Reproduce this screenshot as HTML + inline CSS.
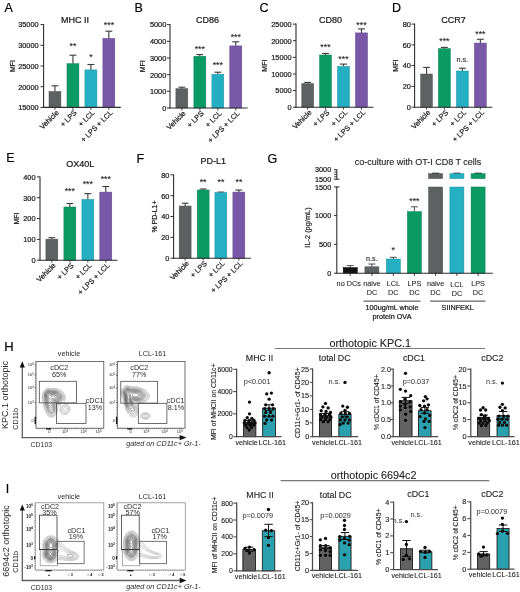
<!DOCTYPE html>
<html lang="en">
<head>
<meta charset="utf-8">
<title>Figure: DC activation by LCL-161</title>
<style>
html,body{margin:0;padding:0;background:#fff;}
body{width:520px;height:592px;overflow:hidden;}
svg{display:block;font-family:"Liberation Sans","DejaVu Sans",sans-serif;}
</style>
</head>
<body>
<svg width="520" height="592" viewBox="0 0 520 592">
<rect x="0" y="0" width="520" height="592" fill="#ffffff"/>
<text x="4.50" y="11.60" font-size="12.5" text-anchor="start" fill="#000" stroke="#000" stroke-width="0.18">A</text>
<text x="75.00" y="22.70" font-size="9.0" text-anchor="middle" fill="#1a1a1a" stroke="#1a1a1a" stroke-width="0.22">MHC II</text>
<line x1="54.95" y1="91.50" x2="54.95" y2="85.80" stroke="#3a3a3a" stroke-width="1.1"/>
<line x1="51.50" y1="85.80" x2="58.40" y2="85.80" stroke="#3a3a3a" stroke-width="1.1"/>
<rect x="49.00" y="91.50" width="11.90" height="15.90" fill="#5e6162" stroke="#4a4f51" stroke-width="0.5"/>
<line x1="72.95" y1="63.70" x2="72.95" y2="55.20" stroke="#3a3a3a" stroke-width="1.1"/>
<line x1="69.50" y1="55.20" x2="76.40" y2="55.20" stroke="#3a3a3a" stroke-width="1.1"/>
<rect x="67.00" y="63.70" width="11.90" height="43.70" fill="#0a9a63" stroke="#087d50" stroke-width="0.5"/>
<line x1="90.90" y1="69.90" x2="90.90" y2="64.50" stroke="#3a3a3a" stroke-width="1.1"/>
<line x1="87.42" y1="64.50" x2="94.38" y2="64.50" stroke="#3a3a3a" stroke-width="1.1"/>
<rect x="84.90" y="69.90" width="12.00" height="37.50" fill="#25afc3" stroke="#1c93a5" stroke-width="0.5"/>
<line x1="108.85" y1="38.40" x2="108.85" y2="31.20" stroke="#3a3a3a" stroke-width="1.1"/>
<line x1="105.40" y1="31.20" x2="112.30" y2="31.20" stroke="#3a3a3a" stroke-width="1.1"/>
<rect x="102.90" y="38.40" width="11.90" height="69.00" fill="#7958a8" stroke="#63468c" stroke-width="0.5"/>
<line x1="43.60" y1="24.10" x2="43.60" y2="107.90" stroke="#2e2e2e" stroke-width="1.1"/>
<line x1="43.10" y1="107.40" x2="120.80" y2="107.40" stroke="#2e2e2e" stroke-width="1.1"/>
<line x1="40.50" y1="24.60" x2="43.60" y2="24.60" stroke="#2e2e2e" stroke-width="1.0"/>
<text x="38.60" y="27.40" font-size="7.35" text-anchor="end" fill="#1a1a1a" stroke="#1a1a1a" stroke-width="0.22">35000</text>
<line x1="40.50" y1="45.30" x2="43.60" y2="45.30" stroke="#2e2e2e" stroke-width="1.0"/>
<text x="38.60" y="48.10" font-size="7.35" text-anchor="end" fill="#1a1a1a" stroke="#1a1a1a" stroke-width="0.22">30000</text>
<line x1="40.50" y1="66.00" x2="43.60" y2="66.00" stroke="#2e2e2e" stroke-width="1.0"/>
<text x="38.60" y="68.80" font-size="7.35" text-anchor="end" fill="#1a1a1a" stroke="#1a1a1a" stroke-width="0.22">25000</text>
<line x1="40.50" y1="86.70" x2="43.60" y2="86.70" stroke="#2e2e2e" stroke-width="1.0"/>
<text x="38.60" y="89.50" font-size="7.35" text-anchor="end" fill="#1a1a1a" stroke="#1a1a1a" stroke-width="0.22">20000</text>
<line x1="40.50" y1="107.40" x2="43.60" y2="107.40" stroke="#2e2e2e" stroke-width="1.0"/>
<text x="38.60" y="110.20" font-size="7.35" text-anchor="end" fill="#1a1a1a" stroke="#1a1a1a" stroke-width="0.22">15000</text>
<line x1="54.95" y1="107.40" x2="54.95" y2="109.80" stroke="#2e2e2e" stroke-width="0.9"/>
<text x="59.25" y="113.20" font-size="7.25" text-anchor="end" fill="#1a1a1a" transform="rotate(-45 59.25 113.20)" stroke="#1a1a1a" stroke-width="0.22">Vehicle</text>
<line x1="72.95" y1="107.40" x2="72.95" y2="109.80" stroke="#2e2e2e" stroke-width="0.9"/>
<text x="77.25" y="113.20" font-size="7.25" text-anchor="end" fill="#1a1a1a" transform="rotate(-45 77.25 113.20)" stroke="#1a1a1a" stroke-width="0.22">+ LPS</text>
<line x1="90.90" y1="107.40" x2="90.90" y2="109.80" stroke="#2e2e2e" stroke-width="0.9"/>
<text x="95.20" y="113.20" font-size="7.25" text-anchor="end" fill="#1a1a1a" transform="rotate(-45 95.20 113.20)" stroke="#1a1a1a" stroke-width="0.22">+ LCL</text>
<line x1="108.85" y1="107.40" x2="108.85" y2="109.80" stroke="#2e2e2e" stroke-width="0.9"/>
<text x="113.15" y="113.20" font-size="7.25" text-anchor="end" fill="#1a1a1a" transform="rotate(-45 113.15 113.20)" stroke="#1a1a1a" stroke-width="0.22">+ LPS + LCL</text>
<text x="73.00" y="48.80" font-size="8.8" text-anchor="middle" fill="#1a1a1a" stroke="#1a1a1a" stroke-width="0.1">**</text>
<text x="91.00" y="60.30" font-size="8.8" text-anchor="middle" fill="#1a1a1a" stroke="#1a1a1a" stroke-width="0.1">*</text>
<text x="109.00" y="28.30" font-size="8.8" text-anchor="middle" fill="#1a1a1a" stroke="#1a1a1a" stroke-width="0.1">***</text>
<text x="14.50" y="66.00" font-size="7" text-anchor="middle" fill="#1a1a1a" transform="rotate(-90 14.50 66.00)" stroke="#1a1a1a" stroke-width="0.22">MFI</text>
<text x="134.50" y="11.60" font-size="12.5" text-anchor="start" fill="#000" stroke="#000" stroke-width="0.18">B</text>
<text x="207.50" y="22.70" font-size="9.0" text-anchor="middle" fill="#1a1a1a" stroke="#1a1a1a" stroke-width="0.22">CD86</text>
<line x1="181.85" y1="88.70" x2="181.85" y2="87.20" stroke="#3a3a3a" stroke-width="1.1"/>
<line x1="178.40" y1="87.20" x2="185.30" y2="87.20" stroke="#3a3a3a" stroke-width="1.1"/>
<rect x="175.90" y="88.70" width="11.90" height="19.30" fill="#5e6162" stroke="#4a4f51" stroke-width="0.5"/>
<line x1="199.85" y1="56.30" x2="199.85" y2="54.60" stroke="#3a3a3a" stroke-width="1.1"/>
<line x1="196.40" y1="54.60" x2="203.30" y2="54.60" stroke="#3a3a3a" stroke-width="1.1"/>
<rect x="193.90" y="56.30" width="11.90" height="51.70" fill="#0a9a63" stroke="#087d50" stroke-width="0.5"/>
<line x1="217.85" y1="74.30" x2="217.85" y2="72.20" stroke="#3a3a3a" stroke-width="1.1"/>
<line x1="214.40" y1="72.20" x2="221.30" y2="72.20" stroke="#3a3a3a" stroke-width="1.1"/>
<rect x="211.90" y="74.30" width="11.90" height="33.70" fill="#25afc3" stroke="#1c93a5" stroke-width="0.5"/>
<line x1="235.80" y1="45.90" x2="235.80" y2="41.80" stroke="#3a3a3a" stroke-width="1.1"/>
<line x1="232.32" y1="41.80" x2="239.28" y2="41.80" stroke="#3a3a3a" stroke-width="1.1"/>
<rect x="229.80" y="45.90" width="12.00" height="62.10" fill="#7958a8" stroke="#63468c" stroke-width="0.5"/>
<line x1="170.00" y1="24.10" x2="170.00" y2="108.50" stroke="#2e2e2e" stroke-width="1.1"/>
<line x1="169.50" y1="108.00" x2="247.50" y2="108.00" stroke="#2e2e2e" stroke-width="1.1"/>
<line x1="166.90" y1="24.60" x2="170.00" y2="24.60" stroke="#2e2e2e" stroke-width="1.0"/>
<text x="166.30" y="27.40" font-size="7.35" text-anchor="end" fill="#1a1a1a" stroke="#1a1a1a" stroke-width="0.22">5000</text>
<line x1="166.90" y1="41.30" x2="170.00" y2="41.30" stroke="#2e2e2e" stroke-width="1.0"/>
<text x="166.30" y="44.10" font-size="7.35" text-anchor="end" fill="#1a1a1a" stroke="#1a1a1a" stroke-width="0.22">4000</text>
<line x1="166.90" y1="58.00" x2="170.00" y2="58.00" stroke="#2e2e2e" stroke-width="1.0"/>
<text x="166.30" y="60.80" font-size="7.35" text-anchor="end" fill="#1a1a1a" stroke="#1a1a1a" stroke-width="0.22">3000</text>
<line x1="166.90" y1="74.70" x2="170.00" y2="74.70" stroke="#2e2e2e" stroke-width="1.0"/>
<text x="166.30" y="77.50" font-size="7.35" text-anchor="end" fill="#1a1a1a" stroke="#1a1a1a" stroke-width="0.22">2000</text>
<line x1="166.90" y1="91.30" x2="170.00" y2="91.30" stroke="#2e2e2e" stroke-width="1.0"/>
<text x="166.30" y="94.10" font-size="7.35" text-anchor="end" fill="#1a1a1a" stroke="#1a1a1a" stroke-width="0.22">1000</text>
<line x1="166.90" y1="108.00" x2="170.00" y2="108.00" stroke="#2e2e2e" stroke-width="1.0"/>
<text x="166.30" y="110.80" font-size="7.35" text-anchor="end" fill="#1a1a1a" stroke="#1a1a1a" stroke-width="0.22">0</text>
<line x1="181.85" y1="108.00" x2="181.85" y2="110.40" stroke="#2e2e2e" stroke-width="0.9"/>
<text x="186.15" y="113.80" font-size="7.25" text-anchor="end" fill="#1a1a1a" transform="rotate(-45 186.15 113.80)" stroke="#1a1a1a" stroke-width="0.22">Vehicle</text>
<line x1="199.85" y1="108.00" x2="199.85" y2="110.40" stroke="#2e2e2e" stroke-width="0.9"/>
<text x="204.15" y="113.80" font-size="7.25" text-anchor="end" fill="#1a1a1a" transform="rotate(-45 204.15 113.80)" stroke="#1a1a1a" stroke-width="0.22">+ LPS</text>
<line x1="217.85" y1="108.00" x2="217.85" y2="110.40" stroke="#2e2e2e" stroke-width="0.9"/>
<text x="222.15" y="113.80" font-size="7.25" text-anchor="end" fill="#1a1a1a" transform="rotate(-45 222.15 113.80)" stroke="#1a1a1a" stroke-width="0.22">+ LCL</text>
<line x1="235.80" y1="108.00" x2="235.80" y2="110.40" stroke="#2e2e2e" stroke-width="0.9"/>
<text x="240.10" y="113.80" font-size="7.25" text-anchor="end" fill="#1a1a1a" transform="rotate(-45 240.10 113.80)" stroke="#1a1a1a" stroke-width="0.22">+ LPS + LCL</text>
<text x="199.80" y="51.80" font-size="8.8" text-anchor="middle" fill="#1a1a1a" stroke="#1a1a1a" stroke-width="0.1">***</text>
<text x="217.80" y="68.30" font-size="8.8" text-anchor="middle" fill="#1a1a1a" stroke="#1a1a1a" stroke-width="0.1">***</text>
<text x="235.80" y="40.30" font-size="8.8" text-anchor="middle" fill="#1a1a1a" stroke="#1a1a1a" stroke-width="0.1">***</text>
<text x="145.50" y="66.30" font-size="7" text-anchor="middle" fill="#1a1a1a" transform="rotate(-90 145.50 66.30)" stroke="#1a1a1a" stroke-width="0.22">MFI</text>
<text x="259.60" y="11.60" font-size="12.5" text-anchor="start" fill="#000" stroke="#000" stroke-width="0.18">C</text>
<text x="330.50" y="22.70" font-size="9.0" text-anchor="middle" fill="#1a1a1a" stroke="#1a1a1a" stroke-width="0.22">CD80</text>
<line x1="307.70" y1="83.60" x2="307.70" y2="82.40" stroke="#3a3a3a" stroke-width="1.1"/>
<line x1="304.28" y1="82.40" x2="311.12" y2="82.40" stroke="#3a3a3a" stroke-width="1.1"/>
<rect x="301.80" y="83.60" width="11.80" height="23.60" fill="#5e6162" stroke="#4a4f51" stroke-width="0.5"/>
<line x1="325.55" y1="55.00" x2="325.55" y2="53.50" stroke="#3a3a3a" stroke-width="1.1"/>
<line x1="322.10" y1="53.50" x2="329.00" y2="53.50" stroke="#3a3a3a" stroke-width="1.1"/>
<rect x="319.60" y="55.00" width="11.90" height="52.20" fill="#0a9a63" stroke="#087d50" stroke-width="0.5"/>
<line x1="343.50" y1="66.40" x2="343.50" y2="64.10" stroke="#3a3a3a" stroke-width="1.1"/>
<line x1="340.02" y1="64.10" x2="346.98" y2="64.10" stroke="#3a3a3a" stroke-width="1.1"/>
<rect x="337.50" y="66.40" width="12.00" height="40.80" fill="#25afc3" stroke="#1c93a5" stroke-width="0.5"/>
<line x1="361.50" y1="32.90" x2="361.50" y2="28.90" stroke="#3a3a3a" stroke-width="1.1"/>
<line x1="358.02" y1="28.90" x2="364.98" y2="28.90" stroke="#3a3a3a" stroke-width="1.1"/>
<rect x="355.50" y="32.90" width="12.00" height="74.30" fill="#7958a8" stroke="#63468c" stroke-width="0.5"/>
<line x1="296.00" y1="23.60" x2="296.00" y2="107.70" stroke="#2e2e2e" stroke-width="1.1"/>
<line x1="295.50" y1="107.20" x2="373.50" y2="107.20" stroke="#2e2e2e" stroke-width="1.1"/>
<line x1="292.90" y1="24.10" x2="296.00" y2="24.10" stroke="#2e2e2e" stroke-width="1.0"/>
<text x="291.70" y="26.90" font-size="7.35" text-anchor="end" fill="#1a1a1a" stroke="#1a1a1a" stroke-width="0.22">25000</text>
<line x1="292.90" y1="40.70" x2="296.00" y2="40.70" stroke="#2e2e2e" stroke-width="1.0"/>
<text x="291.70" y="43.50" font-size="7.35" text-anchor="end" fill="#1a1a1a" stroke="#1a1a1a" stroke-width="0.22">20000</text>
<line x1="292.90" y1="57.30" x2="296.00" y2="57.30" stroke="#2e2e2e" stroke-width="1.0"/>
<text x="291.70" y="60.10" font-size="7.35" text-anchor="end" fill="#1a1a1a" stroke="#1a1a1a" stroke-width="0.22">15000</text>
<line x1="292.90" y1="74.00" x2="296.00" y2="74.00" stroke="#2e2e2e" stroke-width="1.0"/>
<text x="291.70" y="76.80" font-size="7.35" text-anchor="end" fill="#1a1a1a" stroke="#1a1a1a" stroke-width="0.22">10000</text>
<line x1="292.90" y1="90.60" x2="296.00" y2="90.60" stroke="#2e2e2e" stroke-width="1.0"/>
<text x="291.70" y="93.40" font-size="7.35" text-anchor="end" fill="#1a1a1a" stroke="#1a1a1a" stroke-width="0.22">5000</text>
<line x1="292.90" y1="107.20" x2="296.00" y2="107.20" stroke="#2e2e2e" stroke-width="1.0"/>
<text x="291.70" y="110.00" font-size="7.35" text-anchor="end" fill="#1a1a1a" stroke="#1a1a1a" stroke-width="0.22">0</text>
<line x1="307.70" y1="107.20" x2="307.70" y2="109.60" stroke="#2e2e2e" stroke-width="0.9"/>
<text x="312.00" y="113.00" font-size="7.25" text-anchor="end" fill="#1a1a1a" transform="rotate(-45 312.00 113.00)" stroke="#1a1a1a" stroke-width="0.22">Vehicle</text>
<line x1="325.55" y1="107.20" x2="325.55" y2="109.60" stroke="#2e2e2e" stroke-width="0.9"/>
<text x="329.85" y="113.00" font-size="7.25" text-anchor="end" fill="#1a1a1a" transform="rotate(-45 329.85 113.00)" stroke="#1a1a1a" stroke-width="0.22">+ LPS</text>
<line x1="343.50" y1="107.20" x2="343.50" y2="109.60" stroke="#2e2e2e" stroke-width="0.9"/>
<text x="347.80" y="113.00" font-size="7.25" text-anchor="end" fill="#1a1a1a" transform="rotate(-45 347.80 113.00)" stroke="#1a1a1a" stroke-width="0.22">+ LCL</text>
<line x1="361.50" y1="107.20" x2="361.50" y2="109.60" stroke="#2e2e2e" stroke-width="0.9"/>
<text x="365.80" y="113.00" font-size="7.25" text-anchor="end" fill="#1a1a1a" transform="rotate(-45 365.80 113.00)" stroke="#1a1a1a" stroke-width="0.22">+ LPS + LCL</text>
<text x="325.50" y="49.80" font-size="8.8" text-anchor="middle" fill="#1a1a1a" stroke="#1a1a1a" stroke-width="0.1">***</text>
<text x="343.50" y="61.50" font-size="8.8" text-anchor="middle" fill="#1a1a1a" stroke="#1a1a1a" stroke-width="0.1">***</text>
<text x="361.50" y="28.30" font-size="8.8" text-anchor="middle" fill="#1a1a1a" stroke="#1a1a1a" stroke-width="0.1">***</text>
<text x="267.00" y="65.65" font-size="7" text-anchor="middle" fill="#1a1a1a" transform="rotate(-90 267.00 65.65)" stroke="#1a1a1a" stroke-width="0.22">MFI</text>
<text x="392.00" y="11.60" font-size="12.5" text-anchor="start" fill="#000" stroke="#000" stroke-width="0.18">D</text>
<text x="453.50" y="22.70" font-size="9.0" text-anchor="middle" fill="#1a1a1a" stroke="#1a1a1a" stroke-width="0.22">CCR7</text>
<line x1="426.55" y1="74.00" x2="426.55" y2="67.40" stroke="#3a3a3a" stroke-width="1.1"/>
<line x1="423.16" y1="67.40" x2="429.94" y2="67.40" stroke="#3a3a3a" stroke-width="1.1"/>
<rect x="420.70" y="74.00" width="11.70" height="33.20" fill="#5e6162" stroke="#4a4f51" stroke-width="0.5"/>
<line x1="444.35" y1="48.70" x2="444.35" y2="47.40" stroke="#3a3a3a" stroke-width="1.1"/>
<line x1="440.90" y1="47.40" x2="447.80" y2="47.40" stroke="#3a3a3a" stroke-width="1.1"/>
<rect x="438.40" y="48.70" width="11.90" height="58.50" fill="#0a9a63" stroke="#087d50" stroke-width="0.5"/>
<line x1="462.35" y1="71.00" x2="462.35" y2="68.20" stroke="#3a3a3a" stroke-width="1.1"/>
<line x1="458.90" y1="68.20" x2="465.80" y2="68.20" stroke="#3a3a3a" stroke-width="1.1"/>
<rect x="456.40" y="71.00" width="11.90" height="36.20" fill="#25afc3" stroke="#1c93a5" stroke-width="0.5"/>
<line x1="480.35" y1="43.10" x2="480.35" y2="39.30" stroke="#3a3a3a" stroke-width="1.1"/>
<line x1="476.90" y1="39.30" x2="483.80" y2="39.30" stroke="#3a3a3a" stroke-width="1.1"/>
<rect x="474.40" y="43.10" width="11.90" height="64.10" fill="#7958a8" stroke="#63468c" stroke-width="0.5"/>
<line x1="414.60" y1="23.60" x2="414.60" y2="107.70" stroke="#2e2e2e" stroke-width="1.1"/>
<line x1="414.10" y1="107.20" x2="492.30" y2="107.20" stroke="#2e2e2e" stroke-width="1.1"/>
<line x1="411.50" y1="24.10" x2="414.60" y2="24.10" stroke="#2e2e2e" stroke-width="1.0"/>
<text x="410.80" y="26.90" font-size="7.35" text-anchor="end" fill="#1a1a1a" stroke="#1a1a1a" stroke-width="0.22">80</text>
<line x1="411.50" y1="44.90" x2="414.60" y2="44.90" stroke="#2e2e2e" stroke-width="1.0"/>
<text x="410.80" y="47.70" font-size="7.35" text-anchor="end" fill="#1a1a1a" stroke="#1a1a1a" stroke-width="0.22">60</text>
<line x1="411.50" y1="65.60" x2="414.60" y2="65.60" stroke="#2e2e2e" stroke-width="1.0"/>
<text x="410.80" y="68.40" font-size="7.35" text-anchor="end" fill="#1a1a1a" stroke="#1a1a1a" stroke-width="0.22">40</text>
<line x1="411.50" y1="86.40" x2="414.60" y2="86.40" stroke="#2e2e2e" stroke-width="1.0"/>
<text x="410.80" y="89.20" font-size="7.35" text-anchor="end" fill="#1a1a1a" stroke="#1a1a1a" stroke-width="0.22">20</text>
<line x1="411.50" y1="107.20" x2="414.60" y2="107.20" stroke="#2e2e2e" stroke-width="1.0"/>
<text x="410.80" y="110.00" font-size="7.35" text-anchor="end" fill="#1a1a1a" stroke="#1a1a1a" stroke-width="0.22">0</text>
<line x1="426.55" y1="107.20" x2="426.55" y2="109.60" stroke="#2e2e2e" stroke-width="0.9"/>
<text x="430.85" y="113.00" font-size="7.25" text-anchor="end" fill="#1a1a1a" transform="rotate(-45 430.85 113.00)" stroke="#1a1a1a" stroke-width="0.22">Vehicle</text>
<line x1="444.35" y1="107.20" x2="444.35" y2="109.60" stroke="#2e2e2e" stroke-width="0.9"/>
<text x="448.65" y="113.00" font-size="7.25" text-anchor="end" fill="#1a1a1a" transform="rotate(-45 448.65 113.00)" stroke="#1a1a1a" stroke-width="0.22">+ LPS</text>
<line x1="462.35" y1="107.20" x2="462.35" y2="109.60" stroke="#2e2e2e" stroke-width="0.9"/>
<text x="466.65" y="113.00" font-size="7.25" text-anchor="end" fill="#1a1a1a" transform="rotate(-45 466.65 113.00)" stroke="#1a1a1a" stroke-width="0.22">+ LCL</text>
<line x1="480.35" y1="107.20" x2="480.35" y2="109.60" stroke="#2e2e2e" stroke-width="0.9"/>
<text x="484.65" y="113.00" font-size="7.25" text-anchor="end" fill="#1a1a1a" transform="rotate(-45 484.65 113.00)" stroke="#1a1a1a" stroke-width="0.22">+ LPS + LCL</text>
<text x="444.40" y="44.30" font-size="8.8" text-anchor="middle" fill="#1a1a1a" stroke="#1a1a1a" stroke-width="0.1">***</text>
<text x="462.40" y="62.30" font-size="7.2" text-anchor="middle" fill="#444" stroke="#444" stroke-width="0.22">n.s.</text>
<text x="480.40" y="37.30" font-size="8.8" text-anchor="middle" fill="#1a1a1a" stroke="#1a1a1a" stroke-width="0.1">***</text>
<text x="397.70" y="65.65" font-size="7" text-anchor="middle" fill="#1a1a1a" transform="rotate(-90 397.70 65.65)" stroke="#1a1a1a" stroke-width="0.22">MFI</text>
<text x="6.30" y="162.30" font-size="12.5" text-anchor="start" fill="#000" stroke="#000" stroke-width="0.18">E</text>
<text x="80.30" y="166.80" font-size="9.0" text-anchor="middle" fill="#1a1a1a" stroke="#1a1a1a" stroke-width="0.22">OX40L</text>
<line x1="51.85" y1="239.20" x2="51.85" y2="237.70" stroke="#3a3a3a" stroke-width="1.1"/>
<line x1="48.40" y1="237.70" x2="55.30" y2="237.70" stroke="#3a3a3a" stroke-width="1.1"/>
<rect x="45.90" y="239.20" width="11.90" height="21.00" fill="#5e6162" stroke="#4a4f51" stroke-width="0.5"/>
<line x1="69.85" y1="207.00" x2="69.85" y2="203.50" stroke="#3a3a3a" stroke-width="1.1"/>
<line x1="66.40" y1="203.50" x2="73.30" y2="203.50" stroke="#3a3a3a" stroke-width="1.1"/>
<rect x="63.90" y="207.00" width="11.90" height="53.20" fill="#0a9a63" stroke="#087d50" stroke-width="0.5"/>
<line x1="87.85" y1="199.40" x2="87.85" y2="193.60" stroke="#3a3a3a" stroke-width="1.1"/>
<line x1="84.40" y1="193.60" x2="91.30" y2="193.60" stroke="#3a3a3a" stroke-width="1.1"/>
<rect x="81.90" y="199.40" width="11.90" height="60.80" fill="#25afc3" stroke="#1c93a5" stroke-width="0.5"/>
<line x1="105.80" y1="192.10" x2="105.80" y2="186.50" stroke="#3a3a3a" stroke-width="1.1"/>
<line x1="102.32" y1="186.50" x2="109.28" y2="186.50" stroke="#3a3a3a" stroke-width="1.1"/>
<rect x="99.80" y="192.10" width="12.00" height="68.10" fill="#7958a8" stroke="#63468c" stroke-width="0.5"/>
<line x1="40.00" y1="176.40" x2="40.00" y2="260.70" stroke="#2e2e2e" stroke-width="1.1"/>
<line x1="39.50" y1="260.20" x2="117.50" y2="260.20" stroke="#2e2e2e" stroke-width="1.1"/>
<line x1="36.90" y1="176.90" x2="40.00" y2="176.90" stroke="#2e2e2e" stroke-width="1.0"/>
<text x="35.50" y="179.70" font-size="7.35" text-anchor="end" fill="#1a1a1a" stroke="#1a1a1a" stroke-width="0.22">400</text>
<line x1="36.90" y1="197.70" x2="40.00" y2="197.70" stroke="#2e2e2e" stroke-width="1.0"/>
<text x="35.50" y="200.50" font-size="7.35" text-anchor="end" fill="#1a1a1a" stroke="#1a1a1a" stroke-width="0.22">300</text>
<line x1="36.90" y1="218.50" x2="40.00" y2="218.50" stroke="#2e2e2e" stroke-width="1.0"/>
<text x="35.50" y="221.30" font-size="7.35" text-anchor="end" fill="#1a1a1a" stroke="#1a1a1a" stroke-width="0.22">200</text>
<line x1="36.90" y1="239.40" x2="40.00" y2="239.40" stroke="#2e2e2e" stroke-width="1.0"/>
<text x="35.50" y="242.20" font-size="7.35" text-anchor="end" fill="#1a1a1a" stroke="#1a1a1a" stroke-width="0.22">100</text>
<line x1="36.90" y1="260.20" x2="40.00" y2="260.20" stroke="#2e2e2e" stroke-width="1.0"/>
<text x="35.50" y="263.00" font-size="7.35" text-anchor="end" fill="#1a1a1a" stroke="#1a1a1a" stroke-width="0.22">0</text>
<line x1="51.85" y1="260.20" x2="51.85" y2="262.60" stroke="#2e2e2e" stroke-width="0.9"/>
<text x="56.15" y="266.00" font-size="7.25" text-anchor="end" fill="#1a1a1a" transform="rotate(-45 56.15 266.00)" stroke="#1a1a1a" stroke-width="0.22">Vehicle</text>
<line x1="69.85" y1="260.20" x2="69.85" y2="262.60" stroke="#2e2e2e" stroke-width="0.9"/>
<text x="74.15" y="266.00" font-size="7.25" text-anchor="end" fill="#1a1a1a" transform="rotate(-45 74.15 266.00)" stroke="#1a1a1a" stroke-width="0.22">+ LPS</text>
<line x1="87.85" y1="260.20" x2="87.85" y2="262.60" stroke="#2e2e2e" stroke-width="0.9"/>
<text x="92.15" y="266.00" font-size="7.25" text-anchor="end" fill="#1a1a1a" transform="rotate(-45 92.15 266.00)" stroke="#1a1a1a" stroke-width="0.22">+ LCL</text>
<line x1="105.80" y1="260.20" x2="105.80" y2="262.60" stroke="#2e2e2e" stroke-width="0.9"/>
<text x="110.10" y="266.00" font-size="7.25" text-anchor="end" fill="#1a1a1a" transform="rotate(-45 110.10 266.00)" stroke="#1a1a1a" stroke-width="0.22">+ LPS + LCL</text>
<text x="69.80" y="194.30" font-size="8.8" text-anchor="middle" fill="#1a1a1a" stroke="#1a1a1a" stroke-width="0.1">***</text>
<text x="87.80" y="187.30" font-size="8.8" text-anchor="middle" fill="#1a1a1a" stroke="#1a1a1a" stroke-width="0.1">***</text>
<text x="105.80" y="181.70" font-size="8.8" text-anchor="middle" fill="#1a1a1a" stroke="#1a1a1a" stroke-width="0.1">***</text>
<text x="19.20" y="218.55" font-size="7" text-anchor="middle" fill="#1a1a1a" transform="rotate(-90 19.20 218.55)" stroke="#1a1a1a" stroke-width="0.22">MFI</text>
<text x="136.50" y="162.80" font-size="12.5" text-anchor="start" fill="#000" stroke="#000" stroke-width="0.18">F</text>
<text x="213.20" y="164.30" font-size="9.0" text-anchor="middle" fill="#1a1a1a" stroke="#1a1a1a" stroke-width="0.22">PD-L1</text>
<line x1="185.15" y1="206.00" x2="185.15" y2="203.20" stroke="#3a3a3a" stroke-width="1.1"/>
<line x1="181.70" y1="203.20" x2="188.60" y2="203.20" stroke="#3a3a3a" stroke-width="1.1"/>
<rect x="179.20" y="206.00" width="11.90" height="52.20" fill="#5e6162" stroke="#4a4f51" stroke-width="0.5"/>
<line x1="203.15" y1="190.00" x2="203.15" y2="189.00" stroke="#3a3a3a" stroke-width="1.1"/>
<line x1="199.70" y1="189.00" x2="206.60" y2="189.00" stroke="#3a3a3a" stroke-width="1.1"/>
<rect x="197.20" y="190.00" width="11.90" height="68.20" fill="#0a9a63" stroke="#087d50" stroke-width="0.5"/>
<line x1="220.85" y1="192.60" x2="220.85" y2="192.10" stroke="#3a3a3a" stroke-width="1.1"/>
<line x1="217.40" y1="192.10" x2="224.30" y2="192.10" stroke="#3a3a3a" stroke-width="1.1"/>
<rect x="214.90" y="192.60" width="11.90" height="65.60" fill="#25afc3" stroke="#1c93a5" stroke-width="0.5"/>
<line x1="238.85" y1="192.10" x2="238.85" y2="190.00" stroke="#3a3a3a" stroke-width="1.1"/>
<line x1="235.40" y1="190.00" x2="242.30" y2="190.00" stroke="#3a3a3a" stroke-width="1.1"/>
<rect x="232.90" y="192.10" width="11.90" height="66.10" fill="#7958a8" stroke="#63468c" stroke-width="0.5"/>
<line x1="173.60" y1="174.30" x2="173.60" y2="258.70" stroke="#2e2e2e" stroke-width="1.1"/>
<line x1="173.10" y1="258.20" x2="250.80" y2="258.20" stroke="#2e2e2e" stroke-width="1.1"/>
<line x1="170.50" y1="174.80" x2="173.60" y2="174.80" stroke="#2e2e2e" stroke-width="1.0"/>
<text x="169.40" y="177.60" font-size="7.35" text-anchor="end" fill="#1a1a1a" stroke="#1a1a1a" stroke-width="0.22">80</text>
<line x1="170.50" y1="195.70" x2="173.60" y2="195.70" stroke="#2e2e2e" stroke-width="1.0"/>
<text x="169.40" y="198.50" font-size="7.35" text-anchor="end" fill="#1a1a1a" stroke="#1a1a1a" stroke-width="0.22">60</text>
<line x1="170.50" y1="216.50" x2="173.60" y2="216.50" stroke="#2e2e2e" stroke-width="1.0"/>
<text x="169.40" y="219.30" font-size="7.35" text-anchor="end" fill="#1a1a1a" stroke="#1a1a1a" stroke-width="0.22">40</text>
<line x1="170.50" y1="237.40" x2="173.60" y2="237.40" stroke="#2e2e2e" stroke-width="1.0"/>
<text x="169.40" y="240.20" font-size="7.35" text-anchor="end" fill="#1a1a1a" stroke="#1a1a1a" stroke-width="0.22">20</text>
<line x1="170.50" y1="258.20" x2="173.60" y2="258.20" stroke="#2e2e2e" stroke-width="1.0"/>
<text x="169.40" y="261.00" font-size="7.35" text-anchor="end" fill="#1a1a1a" stroke="#1a1a1a" stroke-width="0.22">0</text>
<line x1="185.15" y1="258.20" x2="185.15" y2="260.60" stroke="#2e2e2e" stroke-width="0.9"/>
<text x="189.45" y="264.00" font-size="7.25" text-anchor="end" fill="#1a1a1a" transform="rotate(-45 189.45 264.00)" stroke="#1a1a1a" stroke-width="0.22">Vehicle</text>
<line x1="203.15" y1="258.20" x2="203.15" y2="260.60" stroke="#2e2e2e" stroke-width="0.9"/>
<text x="207.45" y="264.00" font-size="7.25" text-anchor="end" fill="#1a1a1a" transform="rotate(-45 207.45 264.00)" stroke="#1a1a1a" stroke-width="0.22">+ LPS</text>
<line x1="220.85" y1="258.20" x2="220.85" y2="260.60" stroke="#2e2e2e" stroke-width="0.9"/>
<text x="225.15" y="264.00" font-size="7.25" text-anchor="end" fill="#1a1a1a" transform="rotate(-45 225.15 264.00)" stroke="#1a1a1a" stroke-width="0.22">+ LCL</text>
<line x1="238.85" y1="258.20" x2="238.85" y2="260.60" stroke="#2e2e2e" stroke-width="0.9"/>
<text x="243.15" y="264.00" font-size="7.25" text-anchor="end" fill="#1a1a1a" transform="rotate(-45 243.15 264.00)" stroke="#1a1a1a" stroke-width="0.22">+ LPS + LCL</text>
<text x="203.10" y="184.70" font-size="8.8" text-anchor="middle" fill="#1a1a1a" stroke="#1a1a1a" stroke-width="0.1">**</text>
<text x="220.90" y="184.70" font-size="8.8" text-anchor="middle" fill="#1a1a1a" stroke="#1a1a1a" stroke-width="0.1">**</text>
<text x="238.90" y="184.70" font-size="8.8" text-anchor="middle" fill="#1a1a1a" stroke="#1a1a1a" stroke-width="0.1">**</text>
<text x="156.50" y="216.50" font-size="7" text-anchor="middle" fill="#1a1a1a" transform="rotate(-90 156.50 216.50)" stroke="#1a1a1a" stroke-width="0.22">% PD-L1+</text>
<text x="267.50" y="163.00" font-size="12.5" text-anchor="start" fill="#000" stroke="#000" stroke-width="0.18">G</text>
<text x="418.00" y="164.80" font-size="9.0" text-anchor="middle" fill="#1a1a1a" stroke="#1a1a1a" stroke-width="0.1">co-culture with OT-I CD8 T cells</text>
<line x1="350.25" y1="267.60" x2="350.25" y2="265.60" stroke="#3a3a3a" stroke-width="0.9"/>
<line x1="346.73" y1="265.60" x2="353.77" y2="265.60" stroke="#3a3a3a" stroke-width="0.9"/>
<rect x="343.20" y="267.60" width="14.10" height="5.60" fill="#111111" stroke="#000" stroke-width="0.5"/>
<line x1="371.90" y1="266.80" x2="371.90" y2="264.00" stroke="#3a3a3a" stroke-width="0.9"/>
<line x1="368.40" y1="264.00" x2="375.40" y2="264.00" stroke="#3a3a3a" stroke-width="0.9"/>
<rect x="364.90" y="266.80" width="14.00" height="6.40" fill="#5e6162" stroke="#4a4f51" stroke-width="0.5"/>
<line x1="393.35" y1="259.00" x2="393.35" y2="257.30" stroke="#3a3a3a" stroke-width="0.9"/>
<line x1="389.83" y1="257.30" x2="396.88" y2="257.30" stroke="#3a3a3a" stroke-width="0.9"/>
<rect x="386.30" y="259.00" width="14.10" height="14.20" fill="#25afc3" stroke="#1c93a5" stroke-width="0.5"/>
<line x1="414.40" y1="211.60" x2="414.40" y2="206.80" stroke="#3a3a3a" stroke-width="0.9"/>
<line x1="410.90" y1="206.80" x2="417.90" y2="206.80" stroke="#3a3a3a" stroke-width="0.9"/>
<rect x="407.40" y="211.60" width="14.00" height="61.60" fill="#0a9a63" stroke="#087d50" stroke-width="0.5"/>
<line x1="432.05" y1="173.30" x2="439.25" y2="173.30" stroke="#222" stroke-width="1.2"/>
<rect x="428.60" y="173.70" width="14.10" height="4.90" fill="#5e6162" stroke="#4a4f51" stroke-width="0.5"/>
<rect x="428.60" y="187.00" width="14.10" height="86.20" fill="#5e6162" stroke="#4a4f51" stroke-width="0.5"/>
<line x1="453.30" y1="173.30" x2="460.50" y2="173.30" stroke="#222" stroke-width="1.2"/>
<rect x="449.90" y="173.70" width="14.00" height="4.90" fill="#25afc3" stroke="#1c93a5" stroke-width="0.5"/>
<rect x="449.90" y="187.00" width="14.00" height="86.20" fill="#25afc3" stroke="#1c93a5" stroke-width="0.5"/>
<line x1="474.50" y1="173.30" x2="481.70" y2="173.30" stroke="#222" stroke-width="1.2"/>
<rect x="471.10" y="173.70" width="14.00" height="4.90" fill="#0a9a63" stroke="#087d50" stroke-width="0.5"/>
<rect x="471.10" y="187.00" width="14.00" height="86.20" fill="#0a9a63" stroke="#087d50" stroke-width="0.5"/>
<line x1="336.80" y1="169.20" x2="336.80" y2="179.60" stroke="#2e2e2e" stroke-width="1.1"/>
<line x1="336.80" y1="186.40" x2="336.80" y2="273.70" stroke="#2e2e2e" stroke-width="1.1"/>
<line x1="336.30" y1="273.20" x2="492.80" y2="273.20" stroke="#2e2e2e" stroke-width="1.1"/>
<line x1="334.00" y1="169.70" x2="336.80" y2="169.70" stroke="#2e2e2e" stroke-width="1.0"/>
<line x1="334.00" y1="179.20" x2="339.40" y2="179.20" stroke="#2e2e2e" stroke-width="1.0"/>
<line x1="334.30" y1="172.10" x2="336.80" y2="172.10" stroke="#2e2e2e" stroke-width="0.95"/>
<line x1="334.30" y1="174.40" x2="336.80" y2="174.40" stroke="#2e2e2e" stroke-width="0.95"/>
<line x1="334.30" y1="176.80" x2="336.80" y2="176.80" stroke="#2e2e2e" stroke-width="0.95"/>
<text x="331.20" y="172.30" font-size="7.25" text-anchor="end" fill="#1a1a1a" stroke="#1a1a1a" stroke-width="0.22">3000</text>
<text x="331.20" y="182.30" font-size="7.25" text-anchor="end" fill="#1a1a1a" stroke="#1a1a1a" stroke-width="0.22">1500</text>
<line x1="334.00" y1="186.90" x2="339.40" y2="186.90" stroke="#2e2e2e" stroke-width="1.0"/>
<text x="331.20" y="189.50" font-size="7.25" text-anchor="end" fill="#1a1a1a" stroke="#1a1a1a" stroke-width="0.22">1500</text>
<line x1="334.00" y1="215.40" x2="336.80" y2="215.40" stroke="#2e2e2e" stroke-width="1.0"/>
<text x="331.20" y="217.90" font-size="7.25" text-anchor="end" fill="#1a1a1a" stroke="#1a1a1a" stroke-width="0.22">1000</text>
<line x1="334.00" y1="244.40" x2="336.80" y2="244.40" stroke="#2e2e2e" stroke-width="1.0"/>
<text x="331.20" y="246.90" font-size="7.25" text-anchor="end" fill="#1a1a1a" stroke="#1a1a1a" stroke-width="0.22">500</text>
<line x1="334.00" y1="273.20" x2="336.80" y2="273.20" stroke="#2e2e2e" stroke-width="1.0"/>
<text x="331.20" y="275.70" font-size="7.25" text-anchor="end" fill="#1a1a1a" stroke="#1a1a1a" stroke-width="0.22">0</text>
<text x="309.60" y="227.50" font-size="7.4" text-anchor="middle" fill="#333" transform="rotate(-90 309.60 227.50)" stroke="#333" stroke-width="0.22">IL-2 (pg/mL)</text>
<line x1="350.20" y1="273.20" x2="350.20" y2="275.80" stroke="#2e2e2e" stroke-width="1.0"/>
<text x="348.70" y="286.30" font-size="7.25" text-anchor="middle" fill="#2a2a2a" stroke="#2a2a2a" stroke-width="0.1">no DCs</text>
<line x1="371.90" y1="273.20" x2="371.90" y2="275.80" stroke="#2e2e2e" stroke-width="1.0"/>
<text x="371.90" y="286.30" font-size="7.25" text-anchor="middle" fill="#2a2a2a" stroke="#2a2a2a" stroke-width="0.1">naive</text>
<text x="371.90" y="295.10" font-size="7.25" text-anchor="middle" fill="#2a2a2a" stroke="#2a2a2a" stroke-width="0.1">DC</text>
<line x1="393.30" y1="273.20" x2="393.30" y2="275.80" stroke="#2e2e2e" stroke-width="1.0"/>
<text x="393.30" y="286.30" font-size="7.25" text-anchor="middle" fill="#2a2a2a" stroke="#2a2a2a" stroke-width="0.1">LCL</text>
<text x="393.30" y="295.10" font-size="7.25" text-anchor="middle" fill="#2a2a2a" stroke="#2a2a2a" stroke-width="0.1">DC</text>
<line x1="414.40" y1="273.20" x2="414.40" y2="275.80" stroke="#2e2e2e" stroke-width="1.0"/>
<text x="414.40" y="286.30" font-size="7.25" text-anchor="middle" fill="#2a2a2a" stroke="#2a2a2a" stroke-width="0.1">LPS</text>
<text x="414.40" y="295.10" font-size="7.25" text-anchor="middle" fill="#2a2a2a" stroke="#2a2a2a" stroke-width="0.1">DC</text>
<line x1="435.60" y1="273.20" x2="435.60" y2="275.80" stroke="#2e2e2e" stroke-width="1.0"/>
<text x="435.60" y="286.30" font-size="7.25" text-anchor="middle" fill="#2a2a2a" stroke="#2a2a2a" stroke-width="0.1">naive</text>
<text x="435.60" y="295.10" font-size="7.25" text-anchor="middle" fill="#2a2a2a" stroke="#2a2a2a" stroke-width="0.1">DC</text>
<line x1="456.90" y1="273.20" x2="456.90" y2="275.80" stroke="#2e2e2e" stroke-width="1.0"/>
<text x="456.90" y="286.90" font-size="7.25" text-anchor="middle" fill="#2a2a2a" stroke="#2a2a2a" stroke-width="0.1">LCL</text>
<text x="456.90" y="295.70" font-size="7.25" text-anchor="middle" fill="#2a2a2a" stroke="#2a2a2a" stroke-width="0.1">DC</text>
<line x1="478.10" y1="273.20" x2="478.10" y2="275.80" stroke="#2e2e2e" stroke-width="1.0"/>
<text x="478.10" y="286.30" font-size="7.25" text-anchor="middle" fill="#2a2a2a" stroke="#2a2a2a" stroke-width="0.1">LPS</text>
<text x="478.10" y="295.10" font-size="7.25" text-anchor="middle" fill="#2a2a2a" stroke="#2a2a2a" stroke-width="0.1">DC</text>
<line x1="363.50" y1="301.20" x2="420.50" y2="301.20" stroke="#666" stroke-width="1.2"/>
<line x1="430.00" y1="301.20" x2="485.50" y2="301.20" stroke="#666" stroke-width="1.2"/>
<text x="392.00" y="310.40" font-size="7.25" text-anchor="middle" fill="#1a1a1a" stroke="#1a1a1a" stroke-width="0.22">100ug/mL whole</text>
<text x="392.00" y="319.20" font-size="7.25" text-anchor="middle" fill="#1a1a1a" stroke="#1a1a1a" stroke-width="0.22">protein OVA</text>
<text x="457.70" y="310.40" font-size="7.25" text-anchor="middle" fill="#1a1a1a" stroke="#1a1a1a" stroke-width="0.22">SIINFEKL</text>
<text x="371.90" y="261.00" font-size="7.2" text-anchor="middle" fill="#444" stroke="#444" stroke-width="0.22">n.s.</text>
<text x="393.30" y="252.80" font-size="8.8" text-anchor="middle" fill="#1a1a1a" stroke="#1a1a1a" stroke-width="0.1">*</text>
<text x="414.40" y="203.50" font-size="8.8" text-anchor="middle" fill="#1a1a1a" stroke="#1a1a1a" stroke-width="0.1">***</text>
<text x="4.20" y="351.30" font-size="13" text-anchor="start" fill="#000" stroke="#000" stroke-width="0.18">H</text>
<text x="8.30" y="395.00" font-size="9" text-anchor="middle" fill="#2a2a2a" transform="rotate(-90 8.30 395.00)">KPC.1 orthotopic</text>
<text x="17.60" y="418.80" font-size="7.2" text-anchor="middle" fill="#2a2a2a" transform="rotate(-90 17.60 418.80)">CD11b</text>
<line x1="22.30" y1="438.20" x2="22.30" y2="365.20" stroke="#606060" stroke-width="1.3"/>
<line x1="21.70" y1="437.60" x2="182.50" y2="437.60" stroke="#606060" stroke-width="1.3"/>
<path d="M22.30 361.20 L19.70 367.40 L24.90 367.40Z" fill="#111"/>
<path d="M186.50 437.60 L179.70 434.90 L179.70 440.30Z" fill="#111"/>
<text x="30.60" y="446.80" font-size="6.9" text-anchor="start" fill="#2a2a2a">CD103</text>
<text x="126.30" y="446.30" font-size="7.2" text-anchor="start" fill="#2a2a2a" font-style="italic">gated on CD11c+ Gr-1-</text>
<text x="69.00" y="356.30" font-size="7.2" text-anchor="middle" fill="#2a2a2a">vehicle</text>
<text x="152.50" y="356.30" font-size="7.2" text-anchor="middle" fill="#2a2a2a">LCL-161</text>
<rect x="36.00" y="361.40" width="67.80" height="66.80" fill="none" stroke="#4d4d4d" stroke-width="0.8"/>
<line x1="34.60" y1="364.80" x2="36.00" y2="364.80" stroke="#222" stroke-width="0.6"/>
<text x="33.80" y="366.24" font-size="4.0" font-weight="normal" text-anchor="end" fill="#1a1a1a">10<tspan dy="-1.1" font-size="2.8">6</tspan></text>
<line x1="34.60" y1="375.00" x2="36.00" y2="375.00" stroke="#222" stroke-width="0.6"/>
<text x="33.80" y="376.44" font-size="4.0" font-weight="normal" text-anchor="end" fill="#1a1a1a">10<tspan dy="-1.1" font-size="2.8">5</tspan></text>
<line x1="34.60" y1="388.00" x2="36.00" y2="388.00" stroke="#222" stroke-width="0.6"/>
<text x="33.80" y="389.44" font-size="4.0" font-weight="normal" text-anchor="end" fill="#1a1a1a">10<tspan dy="-1.1" font-size="2.8">4</tspan></text>
<line x1="34.60" y1="402.40" x2="36.00" y2="402.40" stroke="#222" stroke-width="0.6"/>
<text x="33.80" y="403.84" font-size="4.0" font-weight="normal" text-anchor="end" fill="#1a1a1a">10<tspan dy="-1.1" font-size="2.8">3</tspan></text>
<line x1="34.60" y1="420.30" x2="36.00" y2="420.30" stroke="#222" stroke-width="0.6"/>
<text x="33.80" y="421.74" font-size="4.0" font-weight="normal" text-anchor="end" fill="#1a1a1a">0</text>
<line x1="49.30" y1="428.20" x2="49.30" y2="429.60" stroke="#222" stroke-width="0.6"/>
<text x="49.30" y="433.20" font-size="4.0" text-anchor="middle" fill="#1a1a1a">0</text>
<line x1="65.00" y1="428.20" x2="65.00" y2="429.60" stroke="#222" stroke-width="0.6"/>
<text x="65.00" y="433.20" font-size="4.0" text-anchor="middle" fill="#1a1a1a">10<tspan dy="-1.1" font-size="2.8">3</tspan></text>
<line x1="83.50" y1="428.20" x2="83.50" y2="429.60" stroke="#222" stroke-width="0.6"/>
<text x="83.50" y="433.20" font-size="4.0" text-anchor="middle" fill="#1a1a1a">10<tspan dy="-1.1" font-size="2.8">4</tspan></text>
<line x1="98.50" y1="428.20" x2="98.50" y2="429.60" stroke="#222" stroke-width="0.6"/>
<text x="98.50" y="433.20" font-size="4.0" text-anchor="middle" fill="#1a1a1a">10<tspan dy="-1.1" font-size="2.8">5</tspan></text>
<line x1="35.40" y1="362.40" x2="35.40" y2="427.20" stroke="#555" stroke-width="0.9" stroke-dasharray="0.5 1.3"/>
<line x1="37.00" y1="428.80" x2="102.80" y2="428.80" stroke="#555" stroke-width="0.9" stroke-dasharray="0.5 1.3"/>
<line x1="35.30" y1="416.80" x2="35.30" y2="424.00" stroke="#111" stroke-width="1.3"/>
<line x1="46.00" y1="428.90" x2="51.00" y2="428.90" stroke="#111" stroke-width="1.3"/>
<rect x="117.30" y="361.40" width="67.70" height="66.80" fill="none" stroke="#4d4d4d" stroke-width="0.8"/>
<line x1="115.90" y1="364.80" x2="117.30" y2="364.80" stroke="#222" stroke-width="0.6"/>
<text x="115.10" y="366.24" font-size="4.0" font-weight="normal" text-anchor="end" fill="#1a1a1a">10<tspan dy="-1.1" font-size="2.8">6</tspan></text>
<line x1="115.90" y1="375.00" x2="117.30" y2="375.00" stroke="#222" stroke-width="0.6"/>
<text x="115.10" y="376.44" font-size="4.0" font-weight="normal" text-anchor="end" fill="#1a1a1a">10<tspan dy="-1.1" font-size="2.8">5</tspan></text>
<line x1="115.90" y1="388.00" x2="117.30" y2="388.00" stroke="#222" stroke-width="0.6"/>
<text x="115.10" y="389.44" font-size="4.0" font-weight="normal" text-anchor="end" fill="#1a1a1a">10<tspan dy="-1.1" font-size="2.8">4</tspan></text>
<line x1="115.90" y1="402.40" x2="117.30" y2="402.40" stroke="#222" stroke-width="0.6"/>
<text x="115.10" y="403.84" font-size="4.0" font-weight="normal" text-anchor="end" fill="#1a1a1a">10<tspan dy="-1.1" font-size="2.8">3</tspan></text>
<line x1="115.90" y1="420.30" x2="117.30" y2="420.30" stroke="#222" stroke-width="0.6"/>
<text x="115.10" y="421.74" font-size="4.0" font-weight="normal" text-anchor="end" fill="#1a1a1a">0</text>
<line x1="130.60" y1="428.20" x2="130.60" y2="429.60" stroke="#222" stroke-width="0.6"/>
<text x="130.60" y="433.20" font-size="4.0" text-anchor="middle" fill="#1a1a1a">0</text>
<line x1="146.30" y1="428.20" x2="146.30" y2="429.60" stroke="#222" stroke-width="0.6"/>
<text x="146.30" y="433.20" font-size="4.0" text-anchor="middle" fill="#1a1a1a">10<tspan dy="-1.1" font-size="2.8">3</tspan></text>
<line x1="164.80" y1="428.20" x2="164.80" y2="429.60" stroke="#222" stroke-width="0.6"/>
<text x="164.80" y="433.20" font-size="4.0" text-anchor="middle" fill="#1a1a1a">10<tspan dy="-1.1" font-size="2.8">4</tspan></text>
<line x1="179.80" y1="428.20" x2="179.80" y2="429.60" stroke="#222" stroke-width="0.6"/>
<text x="179.80" y="433.20" font-size="4.0" text-anchor="middle" fill="#1a1a1a">10<tspan dy="-1.1" font-size="2.8">5</tspan></text>
<line x1="116.70" y1="362.40" x2="116.70" y2="427.20" stroke="#555" stroke-width="0.9" stroke-dasharray="0.5 1.3"/>
<line x1="118.30" y1="428.80" x2="184.00" y2="428.80" stroke="#555" stroke-width="0.9" stroke-dasharray="0.5 1.3"/>
<line x1="116.60" y1="416.80" x2="116.60" y2="424.00" stroke="#111" stroke-width="1.3"/>
<line x1="127.30" y1="428.90" x2="132.30" y2="428.90" stroke="#111" stroke-width="1.3"/>
<path d="M48.1 388.2L50.0 388.3L52.3 388.3L54.5 388.4L56.5 388.6L58.2 389.1L59.8 389.8L61.2 390.5L62.5 391.5L63.7 392.8L64.6 394.0L65.2 395.6L65.5 397.5L65.2 399.3L64.6 401.0L63.8 402.5L64.0 403.7L66.0 403.9L67.5 404.5L68.8 405.5L69.7 407.0L70.1 408.8L69.8 410.8L69.0 412.2L68.0 413.4L66.5 414.2L64.8 414.6L62.9 414.2L61.5 413.4L60.5 412.2L59.9 410.5L60.0 408.2L60.5 406.7L60.8 405.0L59.0 405.3L57.8 406.5L57.7 408.5L57.6 410.8L57.1 412.5L56.5 414.0L55.5 415.5L54.3 416.5L52.8 417.2L50.8 417.2L49.2 416.7L47.9 415.8L46.9 414.5L46.1 413.0L45.5 411.5L44.9 409.8L44.4 408.0L43.9 406.2L43.4 404.5L43.0 402.7L42.5 400.8L42.2 399.0L42.0 396.8L42.3 394.8L42.8 393.0L43.6 391.5L44.5 390.2L45.8 389.1L47.2 388.4Z" fill="none" stroke="#9a9a9a" stroke-width="0.48"/>
<path d="M47.6 389.0L49.0 388.9L50.2 389.0L51.8 389.1L53.2 389.1L54.8 389.1L56.0 389.3L57.2 389.6L58.4 390.0L59.5 390.5L60.4 391.0L61.2 391.6L62.1 392.2L62.8 393.0L63.5 394.0L64.0 395.0L64.3 396.0L64.5 397.2L64.4 398.5L64.0 399.8L63.5 400.8L63.0 401.5L62.2 402.3L61.4 403.0L60.5 403.6L59.5 404.0L58.5 404.5L57.5 405.1L57.0 406.0L56.8 407.5L56.8 409.0L56.7 410.2L56.5 411.6L56.2 412.8L55.7 413.8L55.0 414.7L54.2 415.4L53.2 416.0L52.2 416.3L50.8 416.3L49.8 415.9L48.8 415.3L48.0 414.6L47.4 413.8L46.8 412.8L46.4 411.8L46.0 410.6L45.6 409.5L45.2 408.3L44.9 407.2L44.5 406.0L44.2 404.9L44.0 403.8L43.7 402.5L43.4 401.2L43.1 400.0L42.9 398.8L42.8 397.2L42.9 395.8L43.1 394.5L43.5 393.3L43.9 392.2L44.5 391.3L45.1 390.5L45.9 389.8L46.8 389.2ZM63.9 405.2L64.2 405.2L64.8 405.1L65.2 405.1L65.8 405.1L66.2 405.2L66.5 405.3L66.9 405.5L67.2 405.7L67.5 405.8L67.8 406.1L68.0 406.3L68.2 406.6L68.5 407.0L68.6 407.2L68.8 407.5L68.9 408.0L69.0 408.5L69.0 408.8L69.0 409.2L69.0 409.6L68.9 410.0L68.8 410.5L68.7 410.8L68.5 411.1L68.3 411.5L68.1 411.8L67.9 412.0L67.7 412.2L67.4 412.5L67.1 412.8L66.8 413.0L66.5 413.1L66.1 413.2L65.8 413.4L65.2 413.5L64.8 413.5L64.2 413.5L63.8 413.4L63.4 413.2L63.0 413.1L62.8 412.9L62.5 412.7L62.2 412.5L62.0 412.2L61.7 412.0L61.5 411.6L61.3 411.2L61.2 411.0L61.1 410.5L61.0 410.2L61.0 409.8L61.0 409.2L61.0 408.9L61.1 408.5L61.2 408.0L61.3 407.8L61.5 407.4L61.7 407.0L61.9 406.8L62.1 406.5L62.3 406.2L62.6 406.0L62.9 405.8L63.2 405.5L63.5 405.4L63.9 405.2Z" fill="none" stroke="#9a9a9a" stroke-width="0.48"/>
<path d="M47.8 389.5L49.2 389.5L50.5 389.6L52.0 389.7L53.5 389.7L54.8 389.8L56.2 390.0L57.3 390.2L58.5 390.7L59.5 391.2L60.4 391.8L61.2 392.4L62.0 393.2L62.6 394.0L63.2 395.0L63.5 396.0L63.7 397.5L63.5 398.8L63.0 400.0L62.5 400.9L61.8 401.7L61.0 402.4L60.0 403.0L59.0 403.5L58.0 403.9L57.1 404.5L56.5 405.2L56.2 406.5L56.2 408.0L56.1 409.5L56.0 410.8L55.7 412.0L55.2 413.0L54.6 414.0L53.8 414.8L52.9 415.2L51.5 415.5L50.2 415.2L49.2 414.7L48.5 414.0L47.8 413.0L47.2 412.1L46.8 411.0L46.4 410.0L46.0 408.8L45.7 407.8L45.3 406.5L45.0 405.5L44.6 404.2L44.3 403.0L44.1 401.8L43.8 400.5L43.6 399.2L43.5 398.0L43.4 396.5L43.6 395.2L43.8 394.0L44.2 392.8L44.8 391.8L45.3 391.0L46.1 390.2L47.0 389.7ZM64.4 406.2L64.5 406.2L64.8 406.2L65.0 406.2L65.2 406.2L65.5 406.2L65.8 406.2L65.9 406.2L66.0 406.3L66.2 406.4L66.5 406.5L66.5 406.5L66.8 406.6L66.9 406.8L67.0 406.8L67.2 407.0L67.2 407.1L67.4 407.2L67.5 407.4L67.6 407.5L67.7 407.8L67.8 407.8L67.8 408.0L67.9 408.2L68.0 408.5L68.0 408.7L68.0 408.8L68.0 409.0L68.0 409.2L68.0 409.4L68.0 409.5L68.0 409.8L67.9 410.0L67.8 410.2L67.8 410.4L67.7 410.5L67.6 410.8L67.5 410.9L67.4 411.0L67.2 411.2L67.2 411.2L67.0 411.5L67.0 411.5L66.8 411.7L66.7 411.8L66.5 411.9L66.4 412.0L66.2 412.1L66.0 412.2L65.8 412.2L65.8 412.3L65.5 412.4L65.2 412.4L65.0 412.4L64.8 412.4L64.5 412.4L64.2 412.4L64.0 412.3L63.8 412.2L63.8 412.2L63.5 412.1L63.3 412.0L63.2 412.0L63.0 411.8L63.0 411.8L62.8 411.5L62.7 411.5L62.5 411.2L62.5 411.2L62.4 411.0L62.2 410.8L62.2 410.8L62.1 410.5L62.1 410.2L62.0 410.0L62.0 409.9L62.0 409.8L62.0 409.5L62.0 409.2L62.0 409.1L62.0 409.0L62.1 408.8L62.1 408.5L62.2 408.2L62.2 408.2L62.3 408.0L62.5 407.8L62.5 407.7L62.6 407.5L62.8 407.3L62.8 407.2L63.0 407.1L63.1 407.0L63.2 406.8L63.4 406.8L63.5 406.7L63.8 406.5L63.8 406.5L64.0 406.4L64.2 406.3L64.4 406.2Z" fill="none" stroke="#9a9a9a" stroke-width="0.48"/>
<path d="M48.0 390.0L49.0 390.0L50.0 390.1L51.0 390.3L52.2 390.3L53.5 390.3L54.8 390.3L55.8 390.5L56.8 390.8L57.8 391.1L58.7 391.5L59.5 391.9L60.2 392.5L60.9 393.0L61.5 393.7L62.0 394.4L62.5 395.2L62.8 396.1L62.9 397.2L62.8 398.5L62.5 399.3L62.0 400.2L61.5 400.9L60.9 401.5L60.2 402.0L59.5 402.5L58.5 403.0L57.8 403.3L56.9 403.8L56.2 404.2L55.8 405.1L55.5 406.2L55.5 407.5L55.5 408.8L55.5 409.8L55.2 411.0L55.0 411.8L54.5 412.8L54.0 413.5L53.4 414.0L52.5 414.4L51.5 414.6L50.5 414.4L49.7 414.0L49.0 413.4L48.4 412.8L48.0 412.0L47.5 411.0L47.2 410.2L46.8 409.3L46.5 408.3L46.2 407.5L45.9 406.5L45.6 405.5L45.3 404.5L45.0 403.5L44.8 402.5L44.6 401.5L44.4 400.5L44.2 399.4L44.1 398.2L44.0 397.0L44.1 395.8L44.2 394.5L44.5 393.5L44.8 392.7L45.2 391.9L45.8 391.2L46.5 390.6L47.2 390.2ZM64.6 407.8L64.8 407.7L65.0 407.7L65.2 407.7L65.5 407.7L65.6 407.8L65.8 407.8L66.0 408.0L66.0 408.0L66.2 408.2L66.3 408.2L66.4 408.5L66.5 408.7L66.5 408.8L66.6 409.0L66.6 409.2L66.6 409.5L66.5 409.7L66.5 409.8L66.4 410.0L66.2 410.2L66.2 410.2L66.0 410.5L66.0 410.5L65.8 410.7L65.6 410.8L65.5 410.8L65.2 410.9L65.0 410.9L64.8 410.9L64.5 410.9L64.2 410.8L64.2 410.8L64.0 410.6L63.9 410.5L63.8 410.4L63.7 410.2L63.5 410.0L63.5 409.9L63.5 409.8L63.4 409.5L63.4 409.2L63.5 409.0L63.5 408.9L63.5 408.8L63.7 408.5L63.8 408.4L63.8 408.2L64.0 408.1L64.1 408.0L64.2 407.9L64.5 407.8L64.6 407.8Z" fill="none" stroke="#9a9a9a" stroke-width="0.48"/>
<path d="M48.0 390.5L49.0 390.5L50.2 390.7L51.2 390.9L52.5 390.9L53.8 390.8L55.0 391.0L56.0 391.1L57.0 391.4L57.8 391.8L58.8 392.2L59.5 392.7L60.2 393.2L60.8 393.8L61.3 394.5L61.8 395.4L62.0 396.2L62.1 397.5L62.0 398.5L61.6 399.5L61.1 400.2L60.5 400.9L59.8 401.5L59.1 402.0L58.2 402.4L57.5 402.8L56.5 403.2L55.8 403.8L55.2 404.5L55.0 405.3L54.9 406.5L54.9 407.8L54.9 409.0L54.7 410.0L54.5 411.0L54.1 412.0L53.5 412.8L52.9 413.2L52.0 413.6L50.8 413.6L50.0 413.2L49.2 412.6L48.8 411.9L48.2 411.1L47.9 410.2L47.5 409.3L47.2 408.5L46.8 407.5L46.5 406.5L46.2 405.8L45.9 404.8L45.7 403.8L45.4 402.8L45.2 401.8L45.0 400.5L44.8 399.5L44.7 398.5L44.6 397.2L44.5 396.0L44.6 394.8L44.9 393.8L45.2 392.8L45.7 392.0L46.2 391.4L47.0 390.8L48.0 390.5Z" fill="none" stroke="#595959" stroke-width="0.48"/>
<path d="M47.9 391.0L49.0 391.0L50.0 391.2L51.0 391.4L52.2 391.4L53.5 391.4L54.8 391.5L55.8 391.6L56.8 391.9L57.6 392.2L58.5 392.7L59.2 393.2L59.8 393.8L60.5 394.5L60.9 395.2L61.2 396.1L61.4 397.2L61.2 398.5L60.9 399.2L60.5 400.0L59.8 400.8L59.1 401.2L58.3 401.8L57.5 402.1L56.6 402.5L55.8 402.9L55.1 403.5L54.6 404.2L54.4 405.2L54.3 406.5L54.3 407.8L54.2 408.8L54.0 410.0L53.8 410.9L53.3 411.8L52.8 412.3L51.8 412.7L50.6 412.5L49.8 412.0L49.2 411.3L48.8 410.5L48.4 409.8L48.0 408.9L47.7 408.0L47.3 407.0L47.0 406.2L46.6 405.2L46.3 404.2L46.1 403.2L45.9 402.2L45.7 401.2L45.5 400.2L45.3 399.0L45.1 398.0L45.0 396.8L45.0 395.8L45.1 394.8L45.3 393.8L45.7 392.8L46.2 392.0L46.8 391.5L47.8 391.0Z" fill="none" stroke="#595959" stroke-width="0.48"/>
<path d="M47.7 391.5L48.5 391.4L49.2 391.5L50.2 391.8L51.0 391.9L52.0 391.9L53.0 391.9L54.0 391.9L54.9 392.0L55.8 392.2L56.5 392.4L57.2 392.7L57.9 393.0L58.5 393.4L59.0 393.8L59.5 394.3L60.0 394.9L60.3 395.5L60.6 396.2L60.7 397.2L60.6 398.2L60.3 399.0L60.0 399.5L59.5 400.1L59.0 400.6L58.4 401.0L57.8 401.4L57.0 401.7L56.4 402.0L55.8 402.3L55.0 402.7L54.5 403.2L54.2 403.8L53.9 404.5L53.8 405.4L53.7 406.2L53.6 407.2L53.6 408.2L53.5 409.0L53.2 409.9L53.0 410.5L52.5 411.1L51.9 411.5L51.0 411.5L50.4 411.2L49.9 410.8L49.5 410.2L49.0 409.5L48.8 408.9L48.4 408.2L48.1 407.5L47.8 406.8L47.5 406.0L47.2 405.4L47.0 404.6L46.8 403.8L46.6 403.0L46.4 402.2L46.2 401.5L46.0 400.5L45.9 399.8L45.8 398.9L45.6 398.0L45.5 397.2L45.4 396.2L45.4 395.2L45.5 394.5L45.8 393.6L46.0 393.0L46.5 392.3L47.0 391.9L47.7 391.5Z" fill="none" stroke="#595959" stroke-width="0.48"/>
<path d="M47.7 392.0L48.5 391.9L49.3 392.0L50.2 392.2L51.0 392.4L52.0 392.4L53.0 392.4L54.0 392.4L54.9 392.5L55.8 392.7L56.5 392.9L57.2 393.2L57.8 393.5L58.4 394.0L58.9 394.5L59.3 395.0L59.8 395.7L60.0 396.5L60.1 397.2L60.0 398.0L59.7 398.8L59.3 399.5L58.8 400.0L58.2 400.4L57.8 400.8L57.0 401.2L56.2 401.5L55.6 401.8L55.0 402.0L54.3 402.5L53.9 403.0L53.5 403.7L53.3 404.5L53.1 405.2L53.0 406.2L53.0 407.0L52.8 408.0L52.6 408.8L52.3 409.5L51.9 410.0L51.0 410.2L50.3 409.8L49.9 409.2L49.5 408.7L49.1 408.0L48.8 407.4L48.5 406.8L48.1 406.0L47.8 405.2L47.5 404.5L47.3 403.8L47.1 403.0L46.9 402.2L46.8 401.4L46.6 400.5L46.4 399.8L46.2 399.0L46.0 398.0L45.9 397.2L45.8 396.2L45.8 395.2L45.9 394.2L46.2 393.5L46.5 393.0L47.0 392.4L47.7 392.0Z" fill="none" stroke="#595959" stroke-width="0.48"/>
<path d="M47.7 392.5L48.2 392.3L49.0 392.4L49.5 392.5L50.2 392.8L50.8 392.9L51.5 392.9L52.2 392.9L53.0 392.9L53.8 392.9L54.5 392.9L55.0 393.0L55.8 393.2L56.2 393.4L56.8 393.6L57.2 393.9L57.8 394.2L58.1 394.5L58.5 394.9L58.8 395.2L59.1 395.8L59.3 396.2L59.4 397.0L59.4 397.8L59.2 398.2L59.0 398.8L58.7 399.2L58.2 399.7L57.9 400.0L57.5 400.3L57.0 400.6L56.5 400.8L56.0 401.0L55.4 401.2L54.8 401.5L54.3 401.8L54.0 402.0L53.5 402.4L53.2 402.8L53.0 403.2L52.8 403.8L52.6 404.5L52.5 405.0L52.3 405.8L52.2 406.2L52.1 407.0L51.9 407.5L51.6 408.0L51.2 408.2L50.8 408.2L50.2 407.9L49.8 407.5L49.5 407.1L49.2 406.7L49.0 406.2L48.7 405.8L48.5 405.2L48.2 404.7L48.0 404.0L47.8 403.5L47.7 403.0L47.5 402.3L47.4 401.8L47.2 401.2L47.1 400.5L47.0 400.0L46.8 399.2L46.7 398.8L46.5 398.0L46.4 397.5L46.3 396.8L46.2 396.2L46.2 395.5L46.2 394.8L46.3 394.2L46.5 393.8L46.8 393.2L47.2 392.8L47.7 392.5Z" fill="none" stroke="#595959" stroke-width="0.48"/>
<path d="M47.7 393.0L48.2 392.8L49.0 392.9L49.5 393.0L50.1 393.2L50.8 393.4L51.5 393.5L52.2 393.4L53.0 393.4L53.8 393.4L54.5 393.4L55.0 393.5L55.8 393.7L56.2 393.9L56.8 394.2L57.2 394.5L57.6 394.8L58.0 395.2L58.2 395.6L58.5 396.0L58.7 396.8L58.8 397.2L58.7 397.8L58.5 398.3L58.2 398.8L57.9 399.2L57.5 399.6L57.0 399.9L56.5 400.2L56.0 400.4L55.5 400.6L55.0 400.8L54.5 401.0L54.0 401.3L53.5 401.6L53.0 402.0L52.8 402.3L52.4 402.8L52.2 403.2L52.0 403.8L51.8 404.5L51.6 405.0L51.3 405.5L51.0 406.0L50.5 406.1L50.0 405.9L49.6 405.5L49.3 405.0L49.0 404.5L48.8 404.0L48.5 403.5L48.3 403.0L48.2 402.5L48.0 401.8L47.9 401.2L47.7 400.8L47.6 400.0L47.4 399.5L47.2 398.9L47.1 398.2L46.9 397.8L46.8 397.1L46.6 396.5L46.6 395.8L46.6 395.0L46.7 394.2L47.0 393.8L47.2 393.4L47.7 393.0Z" fill="none" stroke="#595959" stroke-width="0.48"/>
<path d="M48.0 393.5L48.2 393.4L48.8 393.4L49.2 393.5L49.5 393.6L49.9 393.8L50.2 393.9L50.8 394.0L51.0 394.0L51.5 394.0L51.8 394.0L52.2 394.0L52.8 393.9L53.2 393.9L53.8 393.9L54.2 393.9L54.7 394.0L55.0 394.1L55.5 394.2L55.8 394.3L56.2 394.5L56.5 394.7L56.8 394.9L57.0 395.1L57.2 395.3L57.5 395.6L57.8 396.0L57.9 396.2L58.0 396.6L58.1 397.0L58.0 397.5L58.0 397.7L57.8 398.2L57.6 398.5L57.5 398.8L57.2 399.0L56.9 399.2L56.6 399.5L56.2 399.7L56.0 399.8L55.6 400.0L55.2 400.2L55.0 400.2L54.5 400.4L54.2 400.5L53.8 400.7L53.5 400.8L53.2 401.0L52.8 401.2L52.5 401.4L52.2 401.7L52.0 401.9L51.8 402.2L51.6 402.5L51.4 402.8L51.2 403.0L51.0 403.3L50.8 403.6L50.5 403.8L50.0 403.8L49.8 403.6L49.5 403.3L49.3 403.0L49.2 402.8L49.0 402.4L48.8 402.0L48.7 401.8L48.6 401.2L48.5 401.0L48.3 400.5L48.2 400.2L48.1 399.8L48.0 399.3L47.9 399.0L47.8 398.6L47.6 398.2L47.5 397.9L47.4 397.5L47.2 397.1L47.2 396.8L47.1 396.2L47.0 395.9L47.0 395.5L47.0 395.2L47.1 394.8L47.2 394.2L47.4 394.0L47.6 393.8L48.0 393.5Z" fill="none" stroke="#595959" stroke-width="0.48"/>
<path d="M48.1 394.2L48.5 394.1L49.0 394.1L49.4 394.2L49.8 394.4L50.0 394.5L50.5 394.6L51.0 394.7L51.5 394.6L52.0 394.6L52.5 394.5L52.8 394.5L53.2 394.4L53.8 394.4L54.2 394.5L54.5 394.5L55.0 394.6L55.3 394.8L55.8 394.9L56.0 395.1L56.2 395.3L56.5 395.5L56.8 395.8L57.0 396.1L57.2 396.5L57.3 396.8L57.3 397.2L57.2 397.6L57.1 398.0L57.0 398.2L56.8 398.5L56.5 398.8L56.2 399.0L55.8 399.2L55.5 399.4L55.2 399.5L54.8 399.7L54.5 399.8L54.0 400.0L53.8 400.0L53.2 400.2L53.0 400.3L52.5 400.5L52.2 400.6L52.0 400.8L51.6 401.0L51.2 401.2L51.0 401.3L50.5 401.5L50.0 401.4L49.8 401.2L49.5 400.9L49.3 400.5L49.2 400.2L49.0 399.9L48.8 399.5L48.7 399.2L48.5 398.8L48.4 398.5L48.2 398.1L48.1 397.8L48.0 397.4L47.8 397.0L47.7 396.8L47.6 396.2L47.5 395.8L47.5 395.2L47.7 394.8L47.8 394.5L48.1 394.2Z" fill="none" stroke="#595959" stroke-width="0.48"/>
<path d="M52.2 395.2L52.2 395.2L52.5 395.2L52.8 395.1L53.0 395.1L53.2 395.1L53.5 395.1L53.8 395.1L54.0 395.1L54.2 395.2L54.5 395.2L54.7 395.2L54.8 395.3L55.0 395.4L55.2 395.5L55.3 395.5L55.5 395.6L55.7 395.8L55.8 395.8L55.9 396.0L56.0 396.1L56.1 396.2L56.2 396.4L56.3 396.5L56.4 396.8L56.4 397.0L56.4 397.2L56.4 397.5L56.3 397.8L56.2 397.8L56.1 398.0L56.0 398.1L55.9 398.2L55.8 398.4L55.6 398.5L55.5 398.6L55.3 398.7L55.2 398.8L55.0 398.9L54.8 399.0L54.7 399.0L54.5 399.1L54.2 399.2L54.0 399.2L53.9 399.2L53.8 399.3L53.5 399.4L53.2 399.4L53.0 399.5L53.0 399.5L52.8 399.5L52.5 399.6L52.2 399.7L52.0 399.7L51.8 399.8L51.8 399.8L51.5 399.8L51.2 399.8L51.0 399.8L50.8 399.8L50.7 399.8L50.5 399.7L50.2 399.5L50.2 399.5L50.0 399.3L50.0 399.2L49.8 399.0L49.8 399.0L49.6 398.8L49.5 398.5L49.5 398.5L49.4 398.2L49.2 398.0L49.2 398.0L49.1 397.8L49.0 397.5L49.0 397.5L48.9 397.2L48.8 397.0L48.7 396.9L48.7 396.8L48.6 396.5L48.5 396.2L48.5 396.2L48.5 396.0L48.5 395.8L48.5 395.6L48.5 395.5L48.8 395.3L49.0 395.3L49.2 395.3L49.5 395.4L49.8 395.4L50.0 395.5L50.2 395.5L50.2 395.5L50.5 395.5L50.8 395.5L50.8 395.5L51.0 395.5L51.2 395.4L51.5 395.4L51.8 395.3L52.0 395.3L52.2 395.2Z" fill="none" stroke="#595959" stroke-width="0.48"/>
<path d="M52.7 396.0L52.8 396.0L53.0 395.9L53.2 395.9L53.5 395.9L53.8 395.9L54.0 395.9L54.2 396.0L54.3 396.0L54.5 396.1L54.8 396.2L54.8 396.2L55.0 396.4L55.1 396.5L55.2 396.8L55.2 396.9L55.3 397.0L55.3 397.2L55.2 397.3L55.2 397.5L55.0 397.8L55.0 397.8L54.8 398.0L54.7 398.0L54.5 398.1L54.3 398.2L54.2 398.3L54.0 398.4L53.8 398.4L53.5 398.5L53.4 398.5L53.2 398.5L53.0 398.6L52.8 398.6L52.5 398.6L52.2 398.6L52.0 398.5L51.8 398.5L51.8 398.5L51.5 398.4L51.3 398.2L51.2 398.2L51.0 398.0L51.0 397.9L50.9 397.8L50.9 397.5L50.9 397.2L51.0 397.0L51.0 397.0L51.2 396.8L51.2 396.7L51.5 396.5L51.5 396.5L51.8 396.4L52.0 396.2L52.0 396.2L52.2 396.1L52.5 396.1L52.7 396.0Z" fill="none" stroke="#595959" stroke-width="0.48"/>
<path d="M127.2 385.5L128.5 385.8L130.0 386.3L131.8 386.6L133.8 386.7L135.5 386.8L137.2 387.0L139.0 387.4L140.5 387.8L142.0 388.3L143.5 389.0L144.8 389.7L146.0 390.5L147.0 391.4L148.0 392.5L148.8 393.6L149.3 395.0L149.5 396.5L149.1 398.2L148.3 399.5L147.3 400.5L146.2 401.3L144.8 402.0L143.5 402.5L141.8 402.9L140.0 403.2L138.2 403.5L137.0 404.2L137.1 405.8L137.5 407.5L137.7 409.2L137.8 411.0L137.6 412.8L137.2 414.3L136.5 415.7L135.5 416.7L134.2 417.2L132.5 417.1L131.2 416.5L130.0 415.6L129.0 414.6L128.1 413.5L127.3 412.2L126.6 411.0L126.0 409.8L125.4 408.2L124.9 406.8L124.5 405.2L124.0 403.5L123.7 402.0L123.4 400.2L122.9 398.8L122.3 397.2L121.7 396.0L121.1 394.5L120.9 392.8L121.1 391.0L121.8 389.7L122.6 388.5L123.7 387.5L124.8 386.6L126.0 385.8ZM143.8 413.0L144.2 412.9L144.8 412.8L145.2 412.8L145.8 412.8L146.2 412.8L146.8 412.9L147.2 413.0L147.5 413.1L148.0 413.2L148.2 413.3L148.6 413.5L149.0 413.8L149.2 413.9L149.5 414.2L149.8 414.4L150.0 414.7L150.2 415.0L150.3 415.2L150.4 415.8L150.4 416.2L150.3 416.8L150.2 417.0L150.0 417.3L149.8 417.6L149.5 417.8L149.2 418.1L149.0 418.2L148.6 418.5L148.2 418.7L148.0 418.8L147.5 418.9L147.2 419.0L146.8 419.1L146.2 419.2L145.8 419.2L145.2 419.2L144.8 419.2L144.2 419.1L143.8 419.0L143.5 418.9L143.0 418.8L142.8 418.7L142.4 418.5L142.0 418.2L141.8 418.1L141.5 417.9L141.2 417.6L141.0 417.3L140.8 417.0L140.7 416.8L140.6 416.2L140.6 415.8L140.7 415.2L140.8 415.0L141.0 414.7L141.2 414.4L141.5 414.1L141.8 413.9L142.0 413.8L142.4 413.5L142.8 413.3L143.0 413.2L143.5 413.1L143.8 413.0Z" fill="none" stroke="#9a9a9a" stroke-width="0.48"/>
<path d="M126.4 386.5L128.0 386.4L129.2 386.8L130.7 387.2L132.2 387.4L134.0 387.4L135.5 387.5L137.2 387.8L138.5 388.0L140.0 388.4L141.2 388.9L142.5 389.4L143.6 390.0L144.8 390.7L145.7 391.5L146.5 392.3L147.3 393.2L147.9 394.5L148.2 396.0L148.0 397.5L147.4 398.8L146.5 399.8L145.6 400.5L144.5 401.1L143.2 401.6L142.0 402.0L140.5 402.3L139.0 402.5L137.2 402.7L136.0 403.2L135.9 404.7L136.3 406.0L136.7 407.5L136.9 409.0L136.9 410.8L136.8 412.3L136.3 413.8L135.7 414.8L134.8 415.6L133.2 415.9L131.8 415.5L130.8 414.9L129.8 414.1L129.0 413.2L128.2 412.2L127.5 411.2L126.8 410.0L126.2 408.9L125.8 407.7L125.3 406.2L124.9 405.0L124.5 403.5L124.2 402.2L124.0 400.8L123.6 399.2L123.3 397.8L122.8 396.5L122.3 395.2L121.9 394.0L121.7 392.5L121.9 391.0L122.5 389.8L123.2 388.8L124.1 388.0L125.0 387.2L126.2 386.6ZM145.5 413.5L145.5 413.5L145.5 413.5L145.8 413.5L146.0 413.5L146.2 413.5L146.5 413.6L146.8 413.6L147.0 413.7L147.2 413.8L147.2 413.8L147.5 413.9L147.8 414.0L147.8 414.0L148.0 414.1L148.2 414.2L148.2 414.3L148.5 414.5L148.6 414.5L148.8 414.7L148.8 414.8L149.0 415.0L149.0 415.0L149.1 415.2L149.2 415.5L149.2 415.5L149.3 415.8L149.3 416.0L149.3 416.2L149.2 416.5L149.2 416.5L149.1 416.8L149.0 417.0L149.0 417.0L148.8 417.2L148.8 417.3L148.6 417.5L148.5 417.5L148.2 417.7L148.2 417.8L148.0 417.9L147.8 418.0L147.8 418.0L147.5 418.1L147.2 418.2L147.2 418.2L147.0 418.3L146.8 418.4L146.5 418.4L146.2 418.5L146.0 418.5L145.8 418.5L145.5 418.5L145.5 418.5L145.5 418.5L145.2 418.5L145.0 418.5L144.8 418.5L144.5 418.4L144.2 418.4L144.0 418.3L143.8 418.2L143.8 418.2L143.5 418.1L143.2 418.0L143.2 418.0L143.0 417.9L142.8 417.8L142.8 417.7L142.5 417.6L142.4 417.5L142.2 417.3L142.2 417.2L142.0 417.0L142.0 417.0L141.8 416.8L141.8 416.5L141.7 416.5L141.7 416.2L141.7 416.0L141.7 415.8L141.7 415.5L141.8 415.5L141.8 415.2L142.0 415.0L142.0 415.0L142.2 414.8L142.2 414.7L142.4 414.5L142.5 414.4L142.8 414.3L142.8 414.2L143.0 414.1L143.2 414.0L143.2 414.0L143.5 413.9L143.8 413.8L143.8 413.8L144.0 413.7L144.2 413.6L144.5 413.6L144.8 413.5L145.0 413.5L145.2 413.5L145.5 413.5Z" fill="none" stroke="#9a9a9a" stroke-width="0.48"/>
<path d="M126.2 387.2L127.8 387.0L129.2 387.4L130.5 387.8L132.0 388.0L133.8 388.0L135.5 388.1L137.0 388.3L138.5 388.6L139.8 389.0L141.1 389.5L142.2 390.0L143.5 390.7L144.5 391.5L145.4 392.2L146.2 393.3L146.8 394.2L147.2 395.8L147.0 397.3L146.4 398.5L145.5 399.5L144.5 400.2L143.5 400.8L142.2 401.2L140.8 401.6L139.2 401.9L137.5 402.0L136.0 402.1L134.8 402.8L134.8 404.0L135.3 405.2L135.8 406.7L136.1 408.0L136.2 409.8L136.1 411.5L135.7 412.8L135.0 413.9L134.0 414.6L132.7 414.8L131.4 414.2L130.3 413.5L129.5 412.7L128.6 411.8L127.9 410.8L127.2 409.7L126.6 408.5L126.1 407.2L125.6 406.0L125.2 404.8L124.8 403.2L124.5 401.8L124.2 400.3L124.0 399.0L123.7 397.5L123.2 396.1L122.8 394.8L122.4 393.5L122.4 391.8L122.8 390.5L123.5 389.3L124.3 388.5L125.2 387.7ZM144.8 414.2L145.0 414.2L145.2 414.2L145.5 414.2L145.8 414.2L146.0 414.2L146.2 414.3L146.2 414.3L146.5 414.3L146.8 414.4L147.0 414.5L147.1 414.5L147.2 414.6L147.5 414.7L147.5 414.8L147.8 414.9L147.8 415.0L148.0 415.2L148.0 415.2L148.2 415.5L148.2 415.7L148.3 415.8L148.3 416.0L148.3 416.2L148.2 416.3L148.2 416.5L148.0 416.8L148.0 416.8L147.8 417.0L147.8 417.1L147.5 417.2L147.5 417.3L147.2 417.4L147.1 417.5L147.0 417.5L146.8 417.6L146.5 417.7L146.2 417.7L146.2 417.8L146.0 417.8L145.8 417.8L145.5 417.8L145.2 417.8L145.0 417.8L144.8 417.8L144.7 417.7L144.5 417.7L144.2 417.6L144.0 417.5L143.9 417.5L143.8 417.4L143.5 417.3L143.5 417.2L143.2 417.1L143.2 417.0L143.0 416.8L143.0 416.8L142.8 416.5L142.8 416.3L142.7 416.2L142.7 416.0L142.7 415.8L142.8 415.7L142.8 415.5L143.0 415.2L143.0 415.2L143.2 415.0L143.2 414.9L143.5 414.8L143.5 414.7L143.8 414.6L143.9 414.5L144.0 414.5L144.2 414.4L144.5 414.3L144.8 414.3L144.8 414.2Z" fill="none" stroke="#9a9a9a" stroke-width="0.48"/>
<path d="M126.5 387.8L128.0 387.7L129.2 388.0L130.2 388.4L131.5 388.6L133.0 388.6L134.5 388.7L135.8 388.8L137.2 389.0L138.4 389.2L139.5 389.6L140.6 390.0L141.7 390.5L142.6 391.0L143.5 391.6L144.3 392.2L145.0 393.1L145.6 394.0L146.0 395.0L146.1 396.5L145.8 397.6L145.2 398.5L144.4 399.2L143.5 399.9L142.5 400.4L141.4 400.8L140.2 401.0L138.9 401.2L137.5 401.4L136.0 401.4L134.6 401.5L133.7 402.0L133.7 403.5L134.1 404.5L134.5 405.5L135.0 406.8L135.2 407.8L135.4 409.2L135.3 410.8L135.0 411.9L134.5 412.8L133.5 413.4L132.5 413.5L131.3 413.0L130.5 412.5L129.7 411.8L129.0 411.0L128.2 410.1L127.6 409.2L127.1 408.2L126.6 407.2L126.2 406.2L125.8 405.1L125.4 404.0L125.1 402.8L124.8 401.5L124.6 400.2L124.4 399.0L124.1 397.8L123.9 396.5L123.5 395.2L123.2 394.2L122.9 393.0L123.0 391.5L123.4 390.5L124.0 389.5L124.8 388.8L125.5 388.2L126.5 387.8ZM145.3 415.2L145.5 415.2L145.7 415.2L145.8 415.3L146.0 415.3L146.2 415.4L146.4 415.5L146.5 415.6L146.6 415.8L146.7 416.0L146.6 416.2L146.5 416.4L146.4 416.5L146.2 416.6L146.0 416.7L145.8 416.7L145.7 416.8L145.5 416.8L145.3 416.8L145.2 416.7L145.0 416.7L144.8 416.6L144.6 416.5L144.5 416.4L144.4 416.2L144.3 416.0L144.4 415.8L144.5 415.6L144.6 415.5L144.8 415.4L145.0 415.3L145.2 415.3L145.3 415.2Z" fill="none" stroke="#9a9a9a" stroke-width="0.48"/>
<path d="M126.8 388.2L128.2 388.2L129.2 388.6L130.5 389.0L131.8 389.2L133.2 389.2L134.5 389.3L136.0 389.4L137.2 389.6L138.5 389.9L139.6 390.2L140.8 390.7L141.8 391.2L142.5 391.8L143.4 392.5L144.1 393.2L144.8 394.2L145.1 395.2L145.1 396.8L144.6 397.8L144.0 398.5L143.0 399.2L142.1 399.8L141.0 400.2L139.8 400.5L138.5 400.7L137.2 400.8L135.8 400.8L134.5 400.7L133.2 401.0L132.8 401.8L132.8 403.0L133.1 404.2L133.5 405.2L134.0 406.4L134.3 407.5L134.5 408.8L134.5 410.0L134.0 411.2L133.2 412.0L132.0 412.0L131.0 411.6L130.2 411.0L129.3 410.2L128.6 409.5L128.0 408.7L127.4 407.8L126.8 406.8L126.4 405.8L126.0 404.6L125.7 403.5L125.3 402.2L125.1 401.0L124.9 399.8L124.7 398.5L124.4 397.2L124.2 396.0L123.8 394.8L123.5 393.5L123.4 392.2L123.7 391.0L124.2 390.0L124.9 389.2L125.8 388.6L126.8 388.2Z" fill="none" stroke="#595959" stroke-width="0.48"/>
<path d="M126.9 388.8L128.0 388.7L129.0 389.0L129.8 389.3L130.8 389.6L131.8 389.8L133.0 389.8L134.2 389.8L135.5 389.9L136.5 390.0L137.7 390.2L138.6 390.5L139.5 390.8L140.5 391.2L141.2 391.7L142.0 392.2L142.7 392.8L143.2 393.4L143.8 394.1L144.1 395.0L144.2 396.2L143.9 397.2L143.3 398.0L142.8 398.5L142.0 399.0L141.0 399.5L140.2 399.8L139.1 400.0L138.0 400.2L136.8 400.2L135.5 400.2L134.2 400.1L133.0 400.2L132.4 400.8L132.1 401.8L132.2 403.0L132.3 404.0L132.6 405.0L132.9 406.0L133.2 407.0L133.4 408.0L133.4 409.2L133.0 410.1L132.2 410.5L131.2 410.3L130.5 410.0L129.8 409.5L129.0 408.9L128.4 408.2L127.8 407.5L127.4 406.8L127.0 406.0L126.5 405.0L126.2 404.2L125.9 403.2L125.7 402.2L125.5 401.2L125.2 400.1L125.1 399.0L124.9 398.0L124.8 396.9L124.5 395.8L124.3 394.8L124.1 393.7L123.9 392.8L124.0 391.7L124.3 390.8L124.8 390.0L125.5 389.4L126.2 388.9Z" fill="none" stroke="#595959" stroke-width="0.48"/>
<path d="M126.8 389.2L128.0 389.2L129.0 389.5L129.8 389.8L130.8 390.2L131.8 390.4L133.0 390.4L134.2 390.3L135.5 390.4L136.5 390.5L137.5 390.8L138.5 391.0L139.5 391.4L140.2 391.8L141.0 392.2L141.8 392.8L142.4 393.5L142.9 394.2L143.2 395.1L143.3 396.2L143.0 397.0L142.5 397.8L141.8 398.3L141.0 398.8L140.0 399.2L139.0 399.4L138.0 399.6L136.8 399.7L135.5 399.6L134.2 399.5L133.2 399.4L132.3 399.8L131.8 400.5L131.7 401.5L131.7 402.8L131.7 404.0L131.8 405.0L132.0 406.2L132.0 407.2L131.8 408.2L131.0 408.6L130.0 408.4L129.2 408.0L128.5 407.4L128.0 406.8L127.5 406.0L127.0 405.1L126.6 404.2L126.3 403.2L126.0 402.2L125.8 401.2L125.6 400.2L125.4 399.2L125.2 398.1L125.1 397.0L124.9 396.0L124.8 395.0L124.5 393.8L124.4 392.8L124.5 391.6L124.9 390.8L125.5 390.0L126.2 389.5Z" fill="none" stroke="#595959" stroke-width="0.48"/>
<path d="M126.8 389.8L127.8 389.6L128.5 389.8L129.2 390.1L130.0 390.5L130.7 390.8L131.5 390.9L132.5 390.9L133.5 390.9L134.5 390.9L135.5 390.9L136.2 391.0L137.2 391.2L138.0 391.4L138.8 391.7L139.4 392.0L140.0 392.3L140.7 392.8L141.2 393.2L141.7 393.8L142.0 394.2L142.4 395.0L142.4 396.0L142.2 396.8L141.8 397.3L141.2 397.8L140.6 398.2L140.0 398.5L139.2 398.8L138.2 399.0L137.5 399.1L136.5 399.1L135.5 399.1L134.6 399.0L133.8 398.9L132.8 398.8L132.0 399.1L131.6 399.8L131.4 400.5L131.3 401.5L131.2 402.2L131.2 403.2L131.2 404.2L131.1 405.2L131.0 406.0L130.6 406.8L130.0 407.1L129.2 407.0L128.5 406.5L128.1 406.0L127.7 405.5L127.3 404.8L127.0 404.2L126.7 403.5L126.5 402.8L126.2 402.0L126.0 401.0L125.9 400.2L125.7 399.5L125.6 398.5L125.5 397.7L125.4 396.8L125.2 395.8L125.1 395.0L125.0 394.2L124.8 393.2L124.8 392.2L125.0 391.5L125.4 390.8L125.9 390.2L126.5 389.9Z" fill="none" stroke="#595959" stroke-width="0.48"/>
<path d="M126.8 390.2L127.8 390.1L128.5 390.3L129.2 390.6L129.9 391.0L130.5 391.3L131.2 391.5L132.2 391.5L133.0 391.5L134.0 391.4L135.0 391.4L135.9 391.5L136.8 391.6L137.5 391.8L138.2 392.1L139.0 392.4L139.6 392.8L140.2 393.2L140.8 393.7L141.1 394.2L141.5 395.0L141.5 395.8L141.3 396.5L141.0 397.0L140.4 397.5L139.8 397.9L139.0 398.2L138.2 398.4L137.5 398.5L136.5 398.6L135.5 398.6L134.8 398.5L133.8 398.3L133.0 398.2L132.0 398.2L131.5 398.7L131.2 399.2L131.0 400.2L130.9 401.0L130.9 402.0L130.8 403.0L130.7 403.8L130.5 404.8L130.2 405.4L129.8 405.9L128.8 405.8L128.2 405.4L127.8 404.8L127.5 404.2L127.1 403.5L126.8 402.8L126.6 402.0L126.4 401.2L126.2 400.5L126.0 399.5L125.9 398.8L125.8 397.8L125.7 397.0L125.6 396.0L125.5 395.2L125.4 394.2L125.2 393.5L125.2 392.5L125.4 391.8L125.8 391.1L126.3 390.6L126.8 390.2Z" fill="none" stroke="#595959" stroke-width="0.48"/>
<path d="M126.9 390.8L127.8 390.6L128.5 390.8L129.2 391.2L129.8 391.5L130.5 392.0L131.2 392.2L132.2 392.2L133.2 392.1L134.0 392.0L135.0 392.0L135.8 392.0L136.8 392.2L137.5 392.4L138.2 392.7L138.8 393.0L139.5 393.5L140.0 394.0L140.3 394.5L140.6 395.2L140.5 396.0L140.1 396.8L139.5 397.2L139.0 397.5L138.2 397.8L137.2 398.0L136.5 398.0L135.5 398.0L134.8 397.9L134.0 397.8L133.0 397.5L132.2 397.4L131.5 397.7L131.1 398.2L130.9 399.0L130.7 399.8L130.6 400.8L130.5 401.7L130.4 402.5L130.2 403.4L130.0 404.2L129.6 404.8L128.8 404.9L128.2 404.5L127.8 403.8L127.4 403.2L127.1 402.5L126.8 401.8L126.6 401.0L126.5 400.2L126.3 399.2L126.2 398.5L126.1 397.5L126.0 396.7L125.9 395.8L125.8 394.8L125.7 394.0L125.6 393.0L125.8 392.1L126.0 391.5L126.5 391.0Z" fill="none" stroke="#595959" stroke-width="0.48"/>
<path d="M127.2 391.2L127.8 391.2L128.2 391.3L128.8 391.5L129.2 391.8L129.7 392.2L130.1 392.5L130.5 392.8L131.0 393.1L131.8 393.1L132.3 393.0L133.0 392.8L133.5 392.7L134.2 392.6L135.0 392.6L135.8 392.6L136.4 392.8L137.0 392.9L137.5 393.1L138.0 393.4L138.5 393.7L138.9 394.0L139.2 394.4L139.5 395.0L139.6 395.5L139.4 396.0L139.0 396.5L138.7 396.8L138.2 397.0L137.5 397.2L137.0 397.4L136.2 397.4L135.5 397.4L134.8 397.3L134.2 397.2L133.7 397.0L133.0 396.8L132.5 396.6L132.0 396.5L131.5 396.6L131.1 397.0L130.8 397.5L130.6 398.0L130.5 398.6L130.4 399.2L130.3 400.0L130.2 400.5L130.2 401.2L130.0 402.0L129.9 402.5L129.8 403.1L129.5 403.6L129.0 403.9L128.5 403.8L128.0 403.3L127.8 402.9L127.5 402.5L127.2 401.9L127.0 401.2L126.9 400.8L126.8 400.1L126.6 399.5L126.5 398.8L126.5 398.2L126.4 397.5L126.3 396.8L126.3 396.0L126.2 395.5L126.2 394.8L126.1 394.0L126.1 393.2L126.2 392.5L126.4 392.0L126.8 391.5L127.2 391.2Z" fill="none" stroke="#595959" stroke-width="0.48"/>
<path d="M127.2 392.0L127.5 391.9L128.0 391.9L128.3 392.0L128.8 392.2L129.0 392.4L129.2 392.7L129.5 393.0L129.8 393.2L129.9 393.5L130.1 393.8L130.3 394.0L130.5 394.4L130.7 394.8L130.7 395.2L130.6 395.8L130.5 396.2L130.4 396.5L130.3 397.0L130.2 397.4L130.2 397.8L130.1 398.2L130.1 398.8L130.0 399.2L130.0 399.5L129.9 400.0L129.8 400.5L129.8 401.0L129.7 401.2L129.6 401.8L129.5 402.1L129.3 402.5L129.1 402.8L128.8 402.9L128.4 402.8L128.2 402.5L128.0 402.2L127.8 401.9L127.6 401.5L127.5 401.2L127.3 400.8L127.2 400.5L127.1 400.0L127.0 399.6L126.9 399.2L126.8 398.8L126.8 398.2L126.8 397.9L126.7 397.5L126.7 397.0L126.7 396.5L126.6 396.0L126.6 395.5L126.6 395.0L126.6 394.5L126.6 394.0L126.6 393.5L126.6 393.0L126.8 392.6L127.0 392.2L127.2 392.0ZM133.9 393.5L134.0 393.5L134.2 393.4L134.5 393.4L134.8 393.4L135.0 393.3L135.2 393.3L135.5 393.4L135.8 393.4L136.0 393.4L136.2 393.5L136.3 393.5L136.5 393.6L136.8 393.7L137.0 393.8L137.0 393.8L137.2 393.9L137.4 394.0L137.5 394.0L137.8 394.2L137.8 394.2L138.0 394.5L138.0 394.5L138.2 394.8L138.2 395.0L138.3 395.0L138.3 395.2L138.3 395.5L138.2 395.5L138.2 395.8L138.0 396.0L138.0 396.0L137.8 396.2L137.6 396.2L137.5 396.3L137.2 396.4L137.1 396.5L137.0 396.5L136.8 396.6L136.5 396.6L136.2 396.6L136.0 396.7L135.8 396.7L135.5 396.6L135.2 396.6L135.0 396.6L134.8 396.5L134.7 396.5L134.5 396.4L134.2 396.4L134.0 396.3L134.0 396.2L133.8 396.1L133.5 396.0L133.5 396.0L133.2 395.9L133.1 395.8L133.0 395.7L132.8 395.5L132.8 395.4L132.6 395.2L132.5 395.1L132.5 395.0L132.4 394.8L132.5 394.5L132.5 394.4L132.6 394.2L132.8 394.1L132.9 394.0L133.0 393.9L133.2 393.8L133.2 393.7L133.5 393.6L133.8 393.5L133.9 393.5Z" fill="none" stroke="#595959" stroke-width="0.48"/>
<path d="M127.6 393.0L127.8 392.9L128.0 392.9L128.2 392.9L128.4 393.0L128.5 393.1L128.7 393.2L128.8 393.3L128.9 393.5L129.0 393.6L129.1 393.8L129.2 394.0L129.3 394.0L129.4 394.2L129.5 394.5L129.5 394.5L129.6 394.8L129.6 395.0L129.7 395.2L129.7 395.5L129.8 395.7L129.8 395.8L129.8 396.0L129.8 396.2L129.8 396.5L129.8 396.8L129.8 397.0L129.7 397.0L129.7 397.2L129.7 397.5L129.7 397.8L129.7 398.0L129.7 398.2L129.6 398.5L129.6 398.8L129.6 399.0L129.6 399.2L129.5 399.5L129.5 399.7L129.5 399.8L129.4 400.0L129.4 400.2L129.3 400.5L129.3 400.8L129.2 400.9L129.2 401.0L129.1 401.2L129.0 401.4L128.9 401.5L128.8 401.6L128.5 401.6L128.3 401.5L128.2 401.5L128.1 401.2L128.0 401.2L127.9 401.0L127.8 400.8L127.8 400.7L127.7 400.5L127.6 400.2L127.5 400.0L127.5 400.0L127.4 399.8L127.4 399.5L127.3 399.3L127.3 399.0L127.2 398.9L127.2 398.8L127.2 398.5L127.2 398.2L127.1 398.0L127.1 397.8L127.1 397.5L127.1 397.3L127.1 397.0L127.1 396.7L127.1 396.5L127.1 396.3L127.1 396.0L127.1 395.8L127.1 395.5L127.1 395.2L127.1 395.0L127.1 394.8L127.1 394.5L127.1 394.2L127.1 394.0L127.2 393.8L127.2 393.5L127.2 393.5L127.4 393.2L127.5 393.0L127.6 393.0Z" fill="none" stroke="#595959" stroke-width="0.48"/>
<path d="M128.0 394.7L128.2 394.7L128.4 394.8L128.5 394.8L128.6 395.0L128.8 395.2L128.8 395.2L128.9 395.5L129.0 395.7L129.0 395.9L129.0 396.0L129.1 396.2L129.1 396.5L129.1 396.8L129.1 397.0L129.1 397.2L129.2 397.5L129.1 397.8L129.1 398.0L129.1 398.2L129.1 398.5L129.1 398.8L129.0 399.0L129.0 399.2L129.0 399.2L128.9 399.5L128.8 399.8L128.8 399.9L128.7 400.0L128.5 400.1L128.2 400.0L128.2 400.0L128.1 399.8L128.0 399.6L128.0 399.5L127.9 399.2L127.8 399.0L127.8 398.9L127.7 398.8L127.7 398.5L127.6 398.2L127.6 398.0L127.6 397.8L127.6 397.5L127.6 397.2L127.6 397.0L127.6 396.8L127.6 396.5L127.6 396.2L127.6 396.0L127.7 395.8L127.7 395.5L127.8 395.3L127.8 395.2L127.9 395.0L128.0 394.8L128.0 394.7Z" fill="none" stroke="#595959" stroke-width="0.48"/>
<rect x="39.30" y="381.30" width="37.20" height="21.60" fill="none" stroke="#4a4a4a" stroke-width="0.8"/>
<rect x="56.40" y="403.30" width="29.60" height="20.20" fill="none" stroke="#4a4a4a" stroke-width="0.8"/>
<rect x="120.80" y="381.30" width="36.80" height="21.90" fill="none" stroke="#4a4a4a" stroke-width="0.8"/>
<rect x="138.30" y="403.30" width="28.60" height="20.20" fill="none" stroke="#4a4a4a" stroke-width="0.8"/>
<text x="59.30" y="370.10" font-size="7.2" text-anchor="middle" fill="#2a2a2a">cDC2</text>
<text x="59.30" y="377.40" font-size="7.2" text-anchor="middle" fill="#2a2a2a">65%</text>
<text x="94.60" y="402.80" font-size="7.2" text-anchor="middle" fill="#2a2a2a">cDC1</text>
<text x="95.00" y="409.50" font-size="7.2" text-anchor="middle" fill="#2a2a2a">13%</text>
<text x="139.30" y="370.10" font-size="7.2" text-anchor="middle" fill="#2a2a2a">cDC2</text>
<text x="139.30" y="377.40" font-size="7.2" text-anchor="middle" fill="#2a2a2a">77%</text>
<text x="175.60" y="402.80" font-size="7.2" text-anchor="middle" fill="#2a2a2a">cDC1</text>
<text x="176.00" y="409.50" font-size="7.2" text-anchor="middle" fill="#2a2a2a">8.1%</text>
<text x="5.80" y="492.90" font-size="12.5" text-anchor="start" fill="#000" stroke="#000" stroke-width="0.18">I</text>
<text x="8.50" y="541.00" font-size="9" text-anchor="middle" fill="#2a2a2a" transform="rotate(-90 8.50 541.00)">6694c2 orthotopic</text>
<text x="17.60" y="561.80" font-size="7.2" text-anchor="middle" fill="#2a2a2a" transform="rotate(-90 17.60 561.80)">CD11b</text>
<line x1="22.30" y1="581.10" x2="22.30" y2="508.40" stroke="#606060" stroke-width="1.3"/>
<line x1="21.70" y1="580.50" x2="182.50" y2="580.50" stroke="#606060" stroke-width="1.3"/>
<path d="M22.30 504.40 L19.70 510.60 L24.90 510.60Z" fill="#111"/>
<path d="M186.50 580.50 L179.70 577.80 L179.70 583.20Z" fill="#111"/>
<text x="30.70" y="589.60" font-size="6.9" text-anchor="start" fill="#2a2a2a">CD103</text>
<text x="126.30" y="588.80" font-size="7.2" text-anchor="start" fill="#2a2a2a" font-style="italic">gated on CD11c+ Gr-1-</text>
<text x="68.80" y="498.80" font-size="7.2" text-anchor="middle" fill="#2a2a2a">vehicle</text>
<text x="152.50" y="498.80" font-size="7.2" text-anchor="middle" fill="#2a2a2a">LCL-161</text>
<rect x="35.30" y="502.80" width="68.50" height="67.20" fill="none" stroke="#8c8c8c" stroke-width="0.8"/>
<text x="33.00" y="507.66" font-size="4.6" font-weight="bold" text-anchor="end" fill="#1a1a1a">10<tspan dy="-1.7" font-size="3.4">6</tspan></text>
<text x="33.00" y="517.66" font-size="4.6" font-weight="bold" text-anchor="end" fill="#1a1a1a">10<tspan dy="-1.7" font-size="3.4">5</tspan></text>
<text x="33.00" y="531.16" font-size="4.6" font-weight="bold" text-anchor="end" fill="#1a1a1a">10<tspan dy="-1.7" font-size="3.4">4</tspan></text>
<text x="33.00" y="547.16" font-size="4.6" font-weight="bold" text-anchor="end" fill="#1a1a1a">10<tspan dy="-1.7" font-size="3.4">3</tspan></text>
<text x="33.00" y="559.66" font-size="4.6" font-weight="bold" text-anchor="end" fill="#1a1a1a">0</text>
<text x="33.00" y="568.66" font-size="4.6" font-weight="bold" text-anchor="end" fill="#1a1a1a">-10<tspan dy="-1.7" font-size="3.4">3</tspan></text>
<text x="48.90" y="575.60" font-size="3.8" font-weight="bold" text-anchor="middle" fill="#1a1a1a">▴</text>
<text x="71.90" y="575.60" font-size="3.8" font-weight="bold" text-anchor="middle" fill="#1a1a1a">3</text>
<line x1="67.30" y1="574.90" x2="70.30" y2="574.90" stroke="#333" stroke-width="0.6" stroke-dasharray="0.7 0.6"/>
<text x="91.40" y="575.60" font-size="3.8" font-weight="bold" text-anchor="middle" fill="#1a1a1a">4</text>
<line x1="86.80" y1="574.90" x2="89.80" y2="574.90" stroke="#333" stroke-width="0.6" stroke-dasharray="0.7 0.6"/>
<text x="102.50" y="575.60" font-size="3.8" font-weight="bold" text-anchor="middle" fill="#1a1a1a">5</text>
<line x1="97.90" y1="574.90" x2="100.90" y2="574.90" stroke="#333" stroke-width="0.6" stroke-dasharray="0.7 0.6"/>
<line x1="34.70" y1="503.80" x2="34.70" y2="569.00" stroke="#555" stroke-width="0.9" stroke-dasharray="0.5 1.3"/>
<line x1="36.30" y1="570.60" x2="102.80" y2="570.60" stroke="#555" stroke-width="0.9" stroke-dasharray="0.5 1.3"/>
<line x1="34.60" y1="556.30" x2="34.60" y2="559.20" stroke="#111" stroke-width="1.3"/>
<line x1="45.30" y1="570.70" x2="51.50" y2="570.70" stroke="#111" stroke-width="1.3"/>
<rect x="117.20" y="502.80" width="68.10" height="67.20" fill="none" stroke="#8c8c8c" stroke-width="0.8"/>
<text x="114.90" y="507.66" font-size="4.6" font-weight="bold" text-anchor="end" fill="#1a1a1a">10<tspan dy="-1.7" font-size="3.4">6</tspan></text>
<text x="114.90" y="517.66" font-size="4.6" font-weight="bold" text-anchor="end" fill="#1a1a1a">10<tspan dy="-1.7" font-size="3.4">5</tspan></text>
<text x="114.90" y="531.16" font-size="4.6" font-weight="bold" text-anchor="end" fill="#1a1a1a">10<tspan dy="-1.7" font-size="3.4">4</tspan></text>
<text x="114.90" y="547.16" font-size="4.6" font-weight="bold" text-anchor="end" fill="#1a1a1a">10<tspan dy="-1.7" font-size="3.4">3</tspan></text>
<text x="114.90" y="559.66" font-size="4.6" font-weight="bold" text-anchor="end" fill="#1a1a1a">0</text>
<text x="114.90" y="568.66" font-size="4.6" font-weight="bold" text-anchor="end" fill="#1a1a1a">-10<tspan dy="-1.7" font-size="3.4">3</tspan></text>
<text x="130.80" y="575.60" font-size="3.8" font-weight="bold" text-anchor="middle" fill="#1a1a1a">▴</text>
<text x="153.80" y="575.60" font-size="3.8" font-weight="bold" text-anchor="middle" fill="#1a1a1a">3</text>
<line x1="149.20" y1="574.90" x2="152.20" y2="574.90" stroke="#333" stroke-width="0.6" stroke-dasharray="0.7 0.6"/>
<text x="173.30" y="575.60" font-size="3.8" font-weight="bold" text-anchor="middle" fill="#1a1a1a">4</text>
<line x1="168.70" y1="574.90" x2="171.70" y2="574.90" stroke="#333" stroke-width="0.6" stroke-dasharray="0.7 0.6"/>
<text x="184.40" y="575.60" font-size="3.8" font-weight="bold" text-anchor="middle" fill="#1a1a1a">5</text>
<line x1="179.80" y1="574.90" x2="182.80" y2="574.90" stroke="#333" stroke-width="0.6" stroke-dasharray="0.7 0.6"/>
<line x1="116.60" y1="503.80" x2="116.60" y2="569.00" stroke="#555" stroke-width="0.9" stroke-dasharray="0.5 1.3"/>
<line x1="118.20" y1="570.60" x2="184.30" y2="570.60" stroke="#555" stroke-width="0.9" stroke-dasharray="0.5 1.3"/>
<line x1="116.50" y1="556.30" x2="116.50" y2="559.20" stroke="#111" stroke-width="1.3"/>
<line x1="127.20" y1="570.70" x2="133.40" y2="570.70" stroke="#111" stroke-width="1.3"/>
<path d="M50.2 535.8L51.8 535.8L53.5 536.2L54.8 536.9L56.0 537.8L57.0 538.7L57.9 539.8L58.8 540.8L59.8 541.8L60.8 542.8L62.0 543.7L63.0 544.7L64.0 545.6L65.0 546.5L66.2 547.5L67.2 548.3L68.5 549.1L69.8 550.0L71.0 550.7L72.2 551.3L73.8 551.9L75.2 552.5L76.5 553.2L77.6 554.0L78.5 555.1L78.9 556.8L78.3 558.2L77.2 559.1L76.0 559.8L74.3 560.2L72.8 560.5L70.8 560.6L68.8 560.6L67.0 560.5L65.2 560.2L63.3 560.0L61.5 559.8L59.8 559.6L57.9 559.8L56.5 560.5L55.4 561.2L54.1 562.0L52.8 562.6L51.0 562.9L49.0 562.8L47.5 562.3L46.2 561.6L45.2 560.8L44.2 559.7L43.5 558.4L42.9 557.0L42.5 555.2L42.4 553.5L42.6 551.8L42.9 550.0L42.9 548.0L42.8 546.0L42.8 544.0L43.1 542.2L43.7 540.8L44.3 539.5L45.2 538.3L46.2 537.4L47.5 536.5L48.9 536.0Z" fill="none" stroke="#9a9a9a" stroke-width="0.48"/>
<path d="M49.3 536.8L51.2 536.6L53.0 537.0L54.3 537.5L55.5 538.5L56.5 539.5L57.3 540.5L58.2 541.8L59.0 542.9L60.0 544.0L61.0 544.9L62.0 545.8L63.1 546.8L64.2 547.8L65.2 548.5L66.5 549.4L67.8 550.2L69.0 550.9L70.3 551.5L71.8 552.0L73.2 552.6L74.8 553.2L76.0 553.9L77.0 554.8L77.6 556.2L77.1 557.8L76.0 558.7L74.7 559.2L73.0 559.6L71.0 559.7L69.0 559.7L67.2 559.4L65.5 559.2L63.8 558.8L62.0 558.5L60.3 558.2L58.5 558.2L57.2 558.8L56.0 559.7L55.0 560.5L53.8 561.3L52.2 561.9L50.5 562.2L48.8 562.0L47.2 561.4L46.0 560.5L45.0 559.5L44.2 558.3L43.6 557.0L43.2 555.4L43.1 553.5L43.3 551.8L43.6 550.0L43.7 548.0L43.5 546.0L43.5 544.5L43.8 542.8L44.3 541.2L45.0 539.9L45.9 538.8L47.0 537.8L48.2 537.1Z" fill="none" stroke="#9a9a9a" stroke-width="0.48"/>
<path d="M49.2 537.5L50.8 537.3L52.5 537.5L53.7 538.0L54.8 538.7L55.6 539.5L56.4 540.5L57.1 541.5L57.8 542.7L58.3 543.8L59.0 544.8L59.9 545.8L60.8 546.5L61.8 547.3L62.8 548.2L63.7 549.0L64.8 549.7L65.8 550.4L66.9 551.0L68.0 551.6L69.2 552.1L70.6 552.5L72.0 552.9L73.2 553.3L74.5 553.9L75.5 554.6L76.3 555.5L76.2 557.1L75.4 558.0L74.2 558.6L72.8 558.9L71.2 559.0L69.8 558.9L68.2 558.7L66.8 558.5L65.2 558.1L63.8 557.8L62.5 557.5L61.0 557.1L59.5 556.9L58.0 557.1L57.0 557.8L56.0 558.8L55.2 559.5L54.2 560.3L53.0 561.0L51.8 561.4L50.2 561.6L48.8 561.3L47.5 560.8L46.5 560.2L45.6 559.2L44.9 558.2L44.2 557.0L43.9 555.8L43.7 554.2L43.8 552.6L44.0 551.1L44.2 549.5L44.3 548.0L44.1 546.5L44.1 544.8L44.3 543.2L44.7 541.8L45.2 540.7L46.0 539.6L46.9 538.8L48.0 538.0L49.2 537.5Z" fill="none" stroke="#9a9a9a" stroke-width="0.48"/>
<path d="M50.1 538.0L51.5 538.0L53.0 538.4L54.0 539.0L55.0 539.8L55.8 540.8L56.5 541.9L57.0 543.0L57.5 544.2L58.0 545.6L58.6 546.8L59.5 547.7L60.5 548.5L61.5 549.2L62.4 550.0L63.5 550.8L64.5 551.4L65.7 552.0L66.9 552.5L68.2 552.9L69.8 553.2L71.0 553.5L72.5 553.9L73.8 554.5L74.7 555.2L75.1 556.5L74.3 557.5L73.0 558.0L71.5 558.2L69.8 558.1L68.2 557.8L67.0 557.4L65.7 557.0L64.2 556.5L63.0 556.1L61.6 555.8L60.2 555.4L58.5 555.3L57.4 556.0L56.5 557.0L55.8 558.0L55.0 558.8L54.0 559.7L53.0 560.3L51.8 560.8L50.0 560.9L48.5 560.6L47.3 560.0L46.4 559.2L45.5 558.2L45.0 557.2L44.5 556.0L44.2 554.5L44.3 553.0L44.5 551.5L44.8 550.0L44.9 548.2L44.8 546.6L44.7 545.0L44.8 543.5L45.2 542.1L45.8 541.0L46.5 540.0L47.5 539.1L48.5 538.5L50.0 538.0Z" fill="none" stroke="#9a9a9a" stroke-width="0.48"/>
<path d="M49.7 538.8L50.5 538.6L51.5 538.7L52.2 538.8L53.0 539.1L53.6 539.5L54.2 540.0L54.8 540.5L55.2 541.0L55.5 541.5L56.0 542.2L56.2 542.9L56.5 543.6L56.8 544.5L56.9 545.2L57.0 546.0L57.2 547.0L57.3 547.8L57.5 548.7L57.8 549.4L58.0 550.0L58.5 550.8L58.8 551.2L58.7 552.0L58.2 552.6L57.8 553.2L57.4 553.8L57.0 554.5L56.8 555.0L56.4 555.8L56.0 556.5L55.7 557.0L55.2 557.6L54.8 558.2L54.3 558.8L53.8 559.2L53.2 559.5L52.5 559.9L51.8 560.2L51.0 560.3L50.0 560.3L49.2 560.2L48.5 560.0L47.8 559.6L47.2 559.2L46.7 558.8L46.2 558.2L45.8 557.6L45.4 557.0L45.1 556.2L44.9 555.5L44.8 554.5L44.7 553.8L44.8 553.0L44.9 552.0L45.1 551.2L45.3 550.5L45.4 549.5L45.5 548.5L45.4 547.5L45.3 546.5L45.3 545.5L45.3 545.0L45.3 544.0L45.5 543.2L45.8 542.4L46.0 541.8L46.5 541.0L46.9 540.5L47.4 540.0L48.0 539.5L48.5 539.2L49.2 538.9ZM67.7 554.5L67.8 554.5L68.0 554.5L68.2 554.4L68.5 554.4L68.8 554.4L69.0 554.4L69.2 554.4L69.5 554.4L69.8 554.4L70.0 554.4L70.2 554.5L70.5 554.5L70.6 554.5L70.8 554.5L71.0 554.6L71.2 554.6L71.5 554.7L71.7 554.8L71.8 554.8L72.0 554.9L72.2 555.0L72.3 555.0L72.5 555.1L72.7 555.2L72.8 555.3L73.0 555.5L73.0 555.5L73.2 555.8L73.2 556.0L73.3 556.0L73.2 556.2L73.2 556.2L73.1 556.5L73.0 556.6L72.8 556.8L72.8 556.8L72.5 556.9L72.3 557.0L72.2 557.0L72.0 557.1L71.8 557.1L71.5 557.1L71.2 557.2L71.0 557.2L70.8 557.1L70.5 557.1L70.2 557.1L70.0 557.1L69.8 557.0L69.7 557.0L69.5 556.9L69.2 556.9L69.0 556.8L68.9 556.8L68.8 556.7L68.5 556.6L68.3 556.5L68.2 556.5L68.0 556.3L67.9 556.2L67.8 556.2L67.5 556.0L67.5 556.0L67.2 555.8L67.2 555.8L67.0 555.5L67.0 555.5L66.8 555.2L66.8 555.0L67.0 554.8L67.0 554.7L67.2 554.6L67.5 554.5L67.7 554.5Z" fill="none" stroke="#4c4c4c" stroke-width="0.48"/>
<path d="M50.5 539.2L51.2 539.2L52.0 539.4L52.8 539.7L53.3 540.0L54.0 540.5L54.5 541.0L54.8 541.5L55.2 542.2L55.5 542.8L55.8 543.5L56.0 544.2L56.2 545.2L56.2 546.2L56.2 547.2L56.1 548.2L56.1 549.2L56.1 550.2L56.2 551.2L56.3 552.0L56.3 553.0L56.2 553.8L56.0 554.8L55.7 555.5L55.5 556.1L55.2 556.8L54.8 557.4L54.2 558.0L53.8 558.5L53.2 558.9L52.6 559.2L52.0 559.5L51.1 559.8L50.2 559.8L49.5 559.7L48.8 559.5L48.0 559.1L47.5 558.8L46.9 558.2L46.5 557.8L46.0 557.0L45.7 556.5L45.5 555.8L45.3 554.8L45.2 554.0L45.3 553.2L45.4 552.2L45.6 551.5L45.8 550.7L46.0 549.8L46.1 549.0L46.0 548.0L45.9 547.2L45.8 546.2L45.8 545.2L45.8 544.2L46.0 543.4L46.2 542.7L46.5 542.0L47.0 541.3L47.4 540.8L48.0 540.2L48.5 539.9L49.2 539.5L50.0 539.3Z" fill="none" stroke="#4c4c4c" stroke-width="0.48"/>
<path d="M49.7 540.0L50.5 539.8L51.5 539.9L52.2 540.1L53.0 540.5L53.5 540.9L54.0 541.3L54.5 542.0L54.8 542.5L55.1 543.2L55.4 544.0L55.5 544.8L55.6 545.8L55.5 546.8L55.4 547.5L55.3 548.5L55.2 549.2L55.2 550.2L55.3 551.0L55.5 552.0L55.6 552.8L55.5 553.8L55.4 554.5L55.2 555.2L54.9 556.0L54.5 556.8L54.2 557.2L53.8 557.8L53.2 558.3L52.5 558.7L51.9 559.0L51.0 559.2L50.2 559.3L49.5 559.2L48.8 558.9L48.0 558.5L47.5 558.1L47.0 557.6L46.6 557.0L46.2 556.4L46.0 555.8L45.8 554.8L45.7 554.0L45.7 553.0L45.9 552.2L46.0 551.5L46.3 550.8L46.5 549.8L46.6 549.0L46.6 548.0L46.5 547.2L46.4 546.2L46.3 545.2L46.4 544.2L46.5 543.5L46.8 542.8L47.2 542.0L47.5 541.5L48.0 541.0L48.6 540.5L49.2 540.2Z" fill="none" stroke="#4c4c4c" stroke-width="0.48"/>
<path d="M50.1 540.5L50.8 540.4L51.5 540.5L52.0 540.6L52.5 540.9L53.0 541.2L53.4 541.5L53.8 541.9L54.0 542.2L54.3 542.8L54.5 543.2L54.8 543.9L54.9 544.5L55.0 545.2L55.0 546.0L54.9 546.8L54.8 547.4L54.6 548.0L54.5 548.7L54.4 549.2L54.5 550.0L54.5 550.5L54.7 551.2L54.8 551.8L54.9 552.5L55.0 553.2L54.9 554.0L54.8 554.8L54.7 555.2L54.5 555.8L54.2 556.3L54.0 556.8L53.6 557.2L53.2 557.6L52.8 558.0L52.4 558.2L51.8 558.5L51.2 558.7L50.8 558.8L50.1 558.8L49.5 558.7L49.0 558.5L48.5 558.2L48.0 557.9L47.5 557.5L47.2 557.2L46.9 556.8L46.7 556.2L46.5 555.8L46.3 555.0L46.2 554.5L46.1 553.8L46.2 553.0L46.3 552.5L46.5 551.8L46.6 551.2L46.8 550.8L47.0 550.0L47.1 549.5L47.2 548.8L47.1 548.0L47.0 547.2L46.9 546.8L46.8 546.0L46.8 545.2L46.9 544.5L47.0 543.8L47.1 543.2L47.4 542.8L47.6 542.2L48.0 541.8L48.3 541.5L48.8 541.1L49.2 540.8L49.8 540.6Z" fill="none" stroke="#4c4c4c" stroke-width="0.48"/>
<path d="M49.7 541.2L50.2 541.1L51.0 541.0L51.8 541.2L52.2 541.4L52.8 541.7L53.1 542.0L53.5 542.5L53.8 542.9L54.0 543.4L54.2 544.0L54.3 544.5L54.4 545.2L54.4 546.0L54.3 546.8L54.1 547.2L54.0 547.8L53.8 548.5L53.8 549.2L53.8 549.6L53.8 550.2L54.0 551.0L54.1 551.5L54.3 552.0L54.4 552.8L54.4 553.5L54.4 554.2L54.2 554.9L54.1 555.5L53.8 556.0L53.5 556.5L53.2 556.9L52.9 557.2L52.5 557.6L52.0 557.9L51.5 558.1L50.8 558.2L50.2 558.3L49.8 558.2L49.1 558.0L48.6 557.8L48.2 557.5L47.8 557.0L47.5 556.7L47.2 556.2L46.9 555.8L46.8 555.1L46.6 554.5L46.6 553.8L46.6 553.0L46.8 552.5L46.9 551.8L47.1 551.2L47.3 550.8L47.5 550.2L47.7 549.5L47.8 549.0L47.8 548.4L47.7 547.8L47.5 547.0L47.4 546.5L47.3 545.8L47.3 545.0L47.4 544.2L47.5 543.8L47.8 543.2L48.0 542.7L48.3 542.2L48.8 541.8L49.2 541.5L49.7 541.2Z" fill="none" stroke="#4c4c4c" stroke-width="0.48"/>
<path d="M50.2 541.8L50.8 541.7L51.5 541.8L52.0 542.0L52.5 542.2L52.8 542.5L53.2 543.0L53.4 543.5L53.6 544.0L53.8 544.5L53.8 545.2L53.8 546.0L53.7 546.5L53.5 547.2L53.3 547.8L53.2 548.2L53.0 549.0L53.1 549.8L53.2 550.5L53.4 551.0L53.6 551.5L53.8 552.2L53.9 552.8L53.9 553.5L53.9 554.2L53.8 554.9L53.6 555.5L53.3 556.0L53.0 556.4L52.7 556.8L52.2 557.2L51.8 557.4L51.2 557.6L50.6 557.8L50.2 557.8L49.5 557.6L49.0 557.4L48.5 557.1L48.1 556.8L47.8 556.3L47.5 555.9L47.3 555.2L47.1 554.8L47.0 554.0L47.1 553.2L47.2 552.5L47.4 552.0L47.5 551.5L47.8 551.0L48.0 550.4L48.2 549.8L48.4 549.2L48.4 548.5L48.3 547.8L48.2 547.2L48.0 546.5L47.9 546.0L47.9 545.2L47.9 544.5L48.0 544.0L48.2 543.4L48.5 543.0L48.9 542.5L49.2 542.2L49.8 541.9Z" fill="none" stroke="#4c4c4c" stroke-width="0.48"/>
<path d="M50.1 542.5L50.8 542.4L51.5 542.5L52.0 542.7L52.3 543.0L52.7 543.5L53.0 544.0L53.1 544.5L53.2 545.2L53.1 546.0L53.0 546.6L52.8 547.2L52.5 547.8L52.3 548.2L52.2 548.8L52.2 549.5L52.3 550.0L52.5 550.5L52.8 551.0L53.0 551.6L53.2 552.2L53.3 552.8L53.4 553.5L53.4 554.2L53.2 554.9L53.0 555.5L52.8 555.9L52.5 556.3L52.0 556.7L51.5 557.0L51.0 557.2L50.2 557.2L49.5 557.1L49.0 556.8L48.6 556.5L48.2 556.1L48.0 555.8L47.8 555.2L47.6 554.5L47.5 553.9L47.5 553.5L47.6 552.8L47.8 552.2L48.0 551.7L48.2 551.2L48.5 550.8L48.8 550.2L49.1 549.8L49.2 549.0L49.2 548.7L49.1 548.0L48.9 547.5L48.8 546.9L48.6 546.2L48.5 545.8L48.5 545.0L48.5 544.5L48.8 543.8L49.0 543.4L49.3 543.0L49.8 542.7Z" fill="none" stroke="#4c4c4c" stroke-width="0.48"/>
<path d="M50.6 543.2L50.8 543.2L51.0 543.2L51.1 543.2L51.2 543.3L51.5 543.4L51.6 543.5L51.8 543.6L51.9 543.8L52.0 543.8L52.1 544.0L52.2 544.2L52.3 544.2L52.4 544.5L52.4 544.8L52.5 545.0L52.5 545.2L52.5 545.5L52.4 545.8L52.4 546.0L52.3 546.2L52.2 546.4L52.2 546.5L52.1 546.8L52.0 546.9L51.9 547.0L51.8 547.2L51.7 547.2L51.5 547.5L51.5 547.5L51.2 547.7L51.1 547.8L51.0 547.8L50.8 547.9L50.5 547.8L50.4 547.8L50.2 547.6L50.1 547.5L50.0 547.4L49.9 547.2L49.8 547.1L49.7 547.0L49.6 546.8L49.5 546.6L49.4 546.5L49.4 546.2L49.3 546.0L49.2 545.9L49.2 545.8L49.2 545.5L49.2 545.2L49.2 545.0L49.2 544.8L49.2 544.7L49.3 544.5L49.4 544.2L49.5 544.0L49.5 544.0L49.7 543.8L49.8 543.7L50.0 543.5L50.0 543.5L50.2 543.3L50.5 543.3L50.6 543.2ZM50.0 550.2L50.0 550.2L50.2 550.1L50.5 550.0L50.8 550.0L51.0 550.1L51.2 550.2L51.2 550.3L51.5 550.5L51.5 550.5L51.7 550.8L51.8 550.8L51.9 551.0L52.0 551.1L52.1 551.2L52.2 551.5L52.2 551.5L52.4 551.8L52.5 552.0L52.5 552.0L52.6 552.2L52.7 552.5L52.8 552.7L52.8 552.8L52.8 553.0L52.9 553.2L52.9 553.5L52.9 553.8L52.9 554.0L52.9 554.2L52.8 554.5L52.8 554.8L52.8 554.8L52.7 555.0L52.5 555.2L52.5 555.3L52.4 555.5L52.2 555.7L52.2 555.8L52.0 556.0L52.0 556.0L51.8 556.2L51.7 556.2L51.5 556.4L51.2 556.5L51.2 556.5L51.0 556.6L50.8 556.6L50.5 556.7L50.2 556.6L50.0 556.6L49.8 556.5L49.6 556.5L49.5 556.4L49.2 556.3L49.2 556.2L49.0 556.1L48.9 556.0L48.8 555.9L48.6 555.8L48.5 555.6L48.5 555.5L48.3 555.2L48.2 555.1L48.2 555.0L48.1 554.8L48.1 554.5L48.0 554.2L48.0 554.0L48.0 553.8L48.0 553.5L48.0 553.2L48.1 553.0L48.2 552.8L48.2 552.5L48.2 552.5L48.4 552.2L48.5 552.0L48.5 551.9L48.6 551.8L48.7 551.5L48.8 551.5L48.9 551.2L49.0 551.2L49.2 551.0L49.2 550.9L49.4 550.8L49.5 550.6L49.6 550.5L49.8 550.4L50.0 550.2Z" fill="none" stroke="#4c4c4c" stroke-width="0.48"/>
<path d="M49.8 551.5L50.0 551.4L50.3 551.3L50.5 551.3L50.8 551.3L51.0 551.4L51.1 551.5L51.2 551.6L51.5 551.8L51.5 551.8L51.7 552.0L51.8 552.1L51.9 552.2L52.0 552.5L52.0 552.5L52.1 552.8L52.2 553.0L52.2 553.2L52.3 553.2L52.3 553.5L52.3 553.8L52.3 554.0L52.3 554.2L52.2 554.3L52.2 554.5L52.1 554.8L52.0 555.0L52.0 555.0L51.8 555.2L51.8 555.3L51.6 555.5L51.5 555.6L51.3 555.8L51.2 555.8L51.0 555.9L50.8 556.0L50.5 556.0L50.2 556.0L50.0 555.9L49.8 555.8L49.6 555.8L49.5 555.7L49.2 555.5L49.2 555.5L49.0 555.2L49.0 555.2L48.9 555.0L48.8 554.8L48.7 554.8L48.7 554.5L48.6 554.2L48.6 554.0L48.6 553.8L48.6 553.5L48.6 553.2L48.7 553.0L48.8 552.9L48.8 552.8L48.9 552.5L49.0 552.4L49.1 552.2L49.2 552.0L49.3 552.0L49.5 551.8L49.5 551.7L49.8 551.5L49.8 551.5Z" fill="none" stroke="#4c4c4c" stroke-width="0.48"/>
<path d="M50.0 552.5L50.2 552.4L50.5 552.4L50.8 552.4L50.9 552.5L51.0 552.6L51.2 552.8L51.2 552.8L51.4 553.0L51.5 553.2L51.5 553.3L51.5 553.5L51.6 553.8L51.6 554.0L51.5 554.2L51.5 554.3L51.4 554.5L51.2 554.7L51.2 554.8L51.0 555.0L51.0 555.0L50.8 555.1L50.5 555.2L50.2 555.1L50.0 555.1L49.9 555.0L49.8 554.9L49.6 554.8L49.5 554.6L49.5 554.5L49.4 554.2L49.3 554.0L49.3 553.8L49.3 553.5L49.4 553.2L49.5 553.0L49.5 553.0L49.7 552.8L49.8 552.7L50.0 552.5L50.0 552.5Z" fill="none" stroke="#4c4c4c" stroke-width="0.48"/>
<path d="M130.0 531.0L132.2 530.9L134.0 531.4L135.3 532.2L136.5 533.4L137.4 534.8L138.2 536.2L138.8 537.8L139.4 539.5L140.2 541.0L141.4 542.0L142.8 543.0L143.8 544.0L144.8 545.2L145.9 546.5L147.0 547.5L148.2 548.5L149.7 549.5L151.0 550.3L152.5 551.1L154.0 551.8L155.8 552.4L157.5 553.0L159.0 553.5L160.5 554.4L161.5 555.8L161.0 557.1L159.5 558.0L157.8 558.4L155.8 558.6L153.5 558.6L151.5 558.5L149.2 558.3L147.5 558.0L145.5 557.5L143.8 557.0L142.0 556.6L140.0 556.3L138.5 556.5L137.2 557.5L136.0 558.7L134.8 559.6L133.2 560.3L131.2 560.7L129.2 560.3L127.8 559.5L126.6 558.5L125.6 557.2L124.8 555.8L124.2 554.2L123.8 552.2L123.6 550.2L123.6 548.0L123.7 545.8L123.6 543.5L123.6 541.2L123.8 539.2L124.2 537.3L124.8 535.8L125.7 534.2L126.7 533.0L127.9 532.0L129.2 531.2Z" fill="none" stroke="#9a9a9a" stroke-width="0.48"/>
<path d="M129.8 532.0L131.8 531.8L133.5 532.2L134.8 532.9L135.8 533.8L136.7 535.0L137.4 536.2L138.0 537.7L138.5 539.2L138.8 540.8L139.3 542.2L140.2 543.4L141.5 544.2L142.6 545.0L143.5 546.0L144.5 547.1L145.5 548.1L146.5 549.0L147.8 549.8L149.0 550.5L150.4 551.2L151.8 551.9L153.2 552.5L154.7 553.0L156.2 553.4L157.8 553.9L159.0 554.6L159.9 555.8L159.0 557.0L157.6 557.5L155.8 557.7L153.8 557.7L152.0 557.5L150.2 557.2L148.5 557.0L146.8 556.6L145.2 556.1L143.8 555.7L142.2 555.2L140.5 554.8L138.8 554.7L137.7 555.5L136.8 556.6L135.8 557.7L134.8 558.6L133.5 559.3L131.8 559.7L130.2 559.7L128.8 559.1L127.5 558.2L126.6 557.2L125.8 556.1L125.1 554.8L124.7 553.2L124.4 551.5L124.3 549.5L124.4 547.5L124.4 545.5L124.3 543.5L124.2 541.8L124.4 540.0L124.7 538.2L125.2 536.8L125.8 535.5L126.7 534.2L127.6 533.2L128.8 532.5Z" fill="none" stroke="#9a9a9a" stroke-width="0.48"/>
<path d="M129.9 532.8L131.8 532.5L133.5 533.0L134.7 533.8L135.7 534.8L136.5 535.8L137.2 537.2L137.7 538.8L138.1 540.2L138.3 542.0L138.7 543.8L139.4 545.0L140.5 545.8L141.8 546.5L142.8 547.5L143.8 548.5L144.8 549.5L146.0 550.4L147.2 551.1L148.7 551.8L150.0 552.3L151.5 553.0L153.0 553.5L154.5 553.9L156.0 554.3L157.5 554.9L157.9 556.0L156.5 556.7L154.8 556.8L153.0 556.6L151.2 556.3L149.5 556.0L148.0 555.7L146.5 555.2L145.0 554.7L143.5 554.2L142.0 553.7L140.5 553.2L139.0 553.0L137.8 554.0L137.0 555.1L136.1 556.2L135.2 557.2L134.0 558.2L132.8 558.8L131.1 559.0L129.5 558.7L128.2 558.0L127.2 557.0L126.3 555.8L125.7 554.5L125.2 553.0L124.9 551.2L124.8 549.2L124.9 547.2L124.9 545.2L124.8 543.2L124.8 541.2L125.0 539.4L125.4 537.8L126.0 536.4L126.8 535.2L127.8 534.0L128.8 533.2Z" fill="none" stroke="#9a9a9a" stroke-width="0.48"/>
<path d="M129.9 533.5L131.0 533.3L132.2 533.3L133.2 533.6L134.0 534.1L134.8 534.6L135.3 535.2L135.9 536.0L136.3 536.8L136.8 537.7L137.0 538.5L137.3 539.5L137.5 540.6L137.6 541.8L137.7 543.0L137.8 544.0L137.9 545.2L138.0 546.2L138.3 547.2L138.6 548.2L138.8 549.2L138.6 550.2L138.2 551.0L137.8 552.0L137.4 552.8L137.0 553.6L136.5 554.5L136.0 555.2L135.5 556.0L135.0 556.5L134.2 557.2L133.5 557.7L132.8 558.0L131.6 558.2L130.8 558.2L129.8 558.0L128.8 557.5L128.1 557.0L127.5 556.4L127.0 555.7L126.5 554.9L126.1 554.0L125.8 553.0L125.6 552.0L125.4 551.0L125.4 549.8L125.4 548.5L125.5 547.2L125.5 546.2L125.5 545.2L125.4 544.0L125.3 542.8L125.3 541.5L125.4 540.2L125.6 539.2L125.9 538.2L126.2 537.2L126.6 536.5L127.1 535.8L127.7 535.0L128.2 534.5L129.0 533.9L129.9 533.5Z" fill="none" stroke="#9a9a9a" stroke-width="0.48"/>
<path d="M130.8 534.0L131.8 534.0L132.5 534.1L133.2 534.4L133.9 534.8L134.5 535.2L135.0 535.8L135.4 536.2L135.8 536.9L136.1 537.5L136.4 538.2L136.6 539.0L136.8 539.8L137.0 540.8L137.0 541.5L137.1 542.5L137.1 543.5L137.1 544.5L137.0 545.5L137.1 546.5L137.2 547.5L137.2 548.5L137.2 549.5L137.2 550.5L137.0 551.4L136.8 552.2L136.5 553.0L136.2 553.6L135.9 554.2L135.5 554.9L135.1 555.5L134.7 556.0L134.1 556.5L133.5 556.9L132.8 557.2L132.0 557.5L131.2 557.6L130.5 557.5L129.8 557.2L129.0 556.8L128.5 556.5L128.0 556.0L127.5 555.4L127.1 554.8L126.8 554.1L126.5 553.5L126.2 552.7L126.1 551.8L126.0 551.0L125.9 550.0L125.9 549.0L126.0 548.0L126.0 547.2L126.0 546.2L126.0 545.3L126.0 544.5L125.9 543.5L125.8 542.5L125.8 541.5L125.9 540.5L126.0 539.8L126.2 538.8L126.5 538.0L126.8 537.5L127.1 536.8L127.5 536.2L128.0 535.6L128.5 535.1L129.0 534.7L129.8 534.3L130.5 534.1Z" fill="none" stroke="#555555" stroke-width="0.48"/>
<path d="M130.4 534.8L131.2 534.6L132.2 534.7L133.0 535.0L133.5 535.2L134.2 535.8L134.7 536.2L135.0 536.8L135.5 537.5L135.8 538.0L136.0 538.8L136.2 539.5L136.4 540.5L136.5 541.2L136.6 542.2L136.5 543.2L136.5 544.0L136.4 545.0L136.4 546.0L136.4 547.0L136.5 548.0L136.5 549.0L136.5 550.0L136.4 551.0L136.2 551.8L136.0 552.6L135.8 553.3L135.4 554.0L135.0 554.6L134.5 555.2L134.0 555.8L133.5 556.2L132.9 556.5L132.2 556.8L131.2 556.9L130.4 556.8L129.7 556.5L129.0 556.1L128.5 555.7L128.0 555.1L127.6 554.5L127.2 553.9L127.0 553.2L126.7 552.5L126.5 551.5L126.4 550.8L126.4 549.8L126.4 548.8L126.5 547.8L126.5 547.0L126.5 546.0L126.5 545.0L126.4 544.2L126.4 543.2L126.3 542.2L126.3 541.2L126.4 540.2L126.6 539.5L126.8 538.8L127.1 538.0L127.4 537.2L127.8 536.8L128.2 536.1L128.8 535.7L129.3 535.2L130.0 534.9Z" fill="none" stroke="#555555" stroke-width="0.48"/>
<path d="M131.3 535.2L132.0 535.3L132.8 535.5L133.5 535.9L134.0 536.4L134.5 536.9L134.9 537.5L135.2 538.1L135.5 538.8L135.8 539.5L136.0 540.5L136.0 541.2L136.1 542.2L136.0 543.2L136.0 544.0L135.9 545.0L135.8 546.0L135.8 547.0L135.9 548.0L135.9 549.0L135.9 550.0L135.8 551.0L135.7 551.8L135.5 552.5L135.2 553.2L134.8 554.0L134.4 554.5L134.0 555.0L133.4 555.5L132.8 555.9L132.0 556.2L131.0 556.2L130.1 556.0L129.5 555.7L128.9 555.2L128.4 554.8L128.0 554.2L127.6 553.5L127.3 552.8L127.1 552.0L127.0 551.2L126.9 550.2L126.9 549.2L126.9 548.2L127.0 547.5L127.0 546.5L127.0 545.5L126.9 544.8L126.9 543.8L126.8 542.8L126.8 541.8L126.8 540.8L127.0 539.8L127.2 539.0L127.5 538.2L127.8 537.7L128.2 537.0L128.7 536.5L129.2 536.0L129.8 535.7L130.5 535.4L131.3 535.2Z" fill="none" stroke="#555555" stroke-width="0.48"/>
<path d="M130.5 536.0L131.0 535.9L131.8 535.9L132.3 536.0L132.9 536.2L133.3 536.5L133.8 536.9L134.1 537.2L134.5 537.8L134.8 538.2L135.0 538.7L135.2 539.2L135.3 539.8L135.5 540.5L135.6 541.0L135.6 541.8L135.6 542.5L135.6 543.2L135.5 543.9L135.4 544.5L135.4 545.2L135.3 546.0L135.3 546.8L135.3 547.5L135.3 548.2L135.4 549.0L135.4 549.8L135.3 550.5L135.2 551.2L135.1 551.8L135.0 552.2L134.8 552.9L134.5 553.4L134.2 553.8L133.9 554.2L133.5 554.7L133.1 555.0L132.7 555.2L132.0 555.5L131.5 555.6L130.8 555.5L130.2 555.4L129.8 555.2L129.2 554.8L128.9 554.5L128.5 554.0L128.2 553.6L128.0 553.1L127.8 552.5L127.6 552.0L127.5 551.5L127.4 550.8L127.4 550.0L127.4 549.2L127.4 548.5L127.5 547.8L127.5 547.0L127.5 546.5L127.5 546.0L127.5 545.2L127.4 544.5L127.3 543.8L127.2 543.1L127.2 542.5L127.2 541.8L127.2 541.0L127.3 540.5L127.5 539.8L127.6 539.2L127.8 538.8L128.0 538.2L128.3 537.8L128.7 537.2L129.0 536.9L129.5 536.5L129.9 536.2L130.5 536.0Z" fill="none" stroke="#555555" stroke-width="0.48"/>
<path d="M131.0 536.5L131.5 536.5L132.0 536.5L132.6 536.8L133.1 537.0L133.5 537.4L133.9 537.8L134.2 538.2L134.5 538.8L134.7 539.2L134.9 539.8L135.0 540.3L135.1 541.0L135.2 541.8L135.2 542.5L135.1 543.2L135.0 544.0L135.0 544.5L134.9 545.2L134.8 546.0L134.8 546.8L134.8 547.5L134.8 548.2L134.9 549.0L134.9 549.8L134.8 550.5L134.8 551.2L134.6 551.8L134.5 552.2L134.2 552.8L134.0 553.2L133.6 553.8L133.2 554.1L132.8 554.5L132.3 554.8L131.8 554.9L131.0 554.9L130.3 554.8L129.8 554.5L129.5 554.2L129.0 553.8L128.8 553.4L128.5 553.0L128.2 552.4L128.0 551.8L127.9 551.2L127.8 550.5L127.8 549.8L127.8 549.0L127.9 548.2L127.9 547.5L128.0 546.8L128.0 546.0L127.9 545.2L127.8 544.5L127.8 543.8L127.7 543.2L127.6 542.5L127.6 541.8L127.7 541.0L127.8 540.5L127.9 539.8L128.1 539.2L128.3 538.8L128.6 538.2L128.9 537.8L129.2 537.4L129.7 537.0L130.2 536.8L130.8 536.5Z" fill="none" stroke="#555555" stroke-width="0.48"/>
<path d="M130.5 537.2L131.2 537.1L132.0 537.2L132.5 537.3L133.0 537.7L133.4 538.0L133.8 538.5L134.0 538.9L134.2 539.4L134.5 540.0L134.6 540.5L134.7 541.2L134.7 542.0L134.7 542.8L134.6 543.5L134.5 544.2L134.4 544.8L134.3 545.5L134.3 546.2L134.3 547.0L134.3 547.8L134.3 548.5L134.4 549.2L134.4 550.0L134.3 550.8L134.2 551.2L134.0 552.0L133.8 552.5L133.5 553.0L133.2 553.3L132.8 553.8L132.4 554.0L131.8 554.2L131.2 554.3L130.8 554.2L130.2 554.0L129.8 553.7L129.3 553.2L129.0 552.8L128.8 552.3L128.6 551.8L128.4 551.2L128.3 550.5L128.3 549.8L128.3 549.0L128.4 548.2L128.4 547.5L128.5 546.8L128.5 546.0L128.4 545.2L128.3 544.5L128.2 544.0L128.1 543.2L128.1 542.5L128.1 541.8L128.1 541.0L128.2 540.3L128.4 539.8L128.6 539.2L128.9 538.8L129.2 538.2L129.5 537.9L130.0 537.5L130.5 537.3Z" fill="none" stroke="#555555" stroke-width="0.48"/>
<path d="M131.0 537.8L131.5 537.7L131.8 537.8L132.2 537.9L132.5 538.0L132.8 538.2L133.1 538.5L133.3 538.8L133.5 539.0L133.8 539.5L133.9 539.8L134.0 540.1L134.1 540.5L134.2 541.0L134.2 541.4L134.3 541.8L134.3 542.2L134.2 542.6L134.2 543.0L134.1 543.5L134.1 544.0L134.0 544.3L133.9 544.8L133.8 545.2L133.8 545.8L133.7 546.0L133.7 546.5L133.7 547.0L133.7 547.5L133.8 547.9L133.8 548.2L133.8 548.8L133.9 549.2L133.9 549.8L133.8 550.2L133.8 550.8L133.7 551.0L133.6 551.5L133.5 551.8L133.3 552.2L133.1 552.5L132.9 552.8L132.7 553.0L132.4 553.2L132.0 553.4L131.8 553.5L131.2 553.6L130.8 553.5L130.5 553.4L130.2 553.2L129.9 553.0L129.7 552.8L129.5 552.5L129.2 552.0L129.1 551.8L129.0 551.3L128.9 551.0L128.8 550.5L128.8 550.0L128.8 549.5L128.8 549.0L128.9 548.5L128.9 548.0L129.0 547.5L129.0 547.2L129.0 546.8L129.0 546.2L129.0 545.9L129.0 545.5L128.9 545.0L128.8 544.5L128.8 544.1L128.7 543.8L128.6 543.2L128.6 542.8L128.5 542.2L128.5 541.8L128.6 541.2L128.6 540.8L128.8 540.3L128.8 540.0L129.0 539.6L129.2 539.2L129.3 539.0L129.5 538.7L129.8 538.5L130.0 538.2L130.4 538.0L130.8 537.8L131.0 537.8Z" fill="none" stroke="#555555" stroke-width="0.48"/>
<path d="M130.9 538.5L131.2 538.4L131.8 538.5L132.0 538.5L132.4 538.8L132.7 539.0L133.0 539.2L133.1 539.5L133.3 539.8L133.5 540.2L133.6 540.5L133.7 541.0L133.8 541.4L133.8 541.8L133.8 542.2L133.8 542.6L133.7 543.0L133.6 543.5L133.5 544.0L133.5 544.2L133.3 544.8L133.2 545.1L133.2 545.5L133.1 546.0L133.0 546.5L133.0 547.0L133.1 547.5L133.1 548.0L133.2 548.5L133.2 549.0L133.3 549.2L133.3 549.8L133.2 550.1L133.2 550.5L133.1 551.0L133.0 551.3L132.8 551.8L132.6 552.0L132.4 552.2L132.1 552.5L131.8 552.7L131.3 552.8L131.2 552.8L130.8 552.6L130.5 552.5L130.2 552.2L130.0 552.0L129.8 551.6L129.6 551.2L129.5 550.9L129.4 550.5L129.4 550.0L129.4 549.5L129.4 549.0L129.5 548.5L129.5 548.2L129.6 547.8L129.6 547.2L129.7 546.8L129.7 546.2L129.6 545.8L129.5 545.2L129.5 545.0L129.4 544.5L129.3 544.0L129.2 543.8L129.1 543.2L129.1 542.8L129.0 542.2L129.0 541.8L129.1 541.2L129.2 540.8L129.2 540.4L129.4 540.0L129.5 539.8L129.8 539.4L130.0 539.1L130.2 538.8L130.5 538.7L130.9 538.5Z" fill="none" stroke="#555555" stroke-width="0.48"/>
<path d="M131.2 539.2L131.5 539.2L131.8 539.3L132.2 539.5L132.5 539.8L132.7 540.0L132.8 540.2L133.0 540.7L133.1 541.0L133.2 541.5L133.2 542.0L133.2 542.5L133.1 543.0L133.0 543.5L132.9 543.8L132.8 544.2L132.7 544.5L132.5 544.9L132.4 545.2L132.2 545.6L132.1 546.0L132.0 546.5L132.0 547.0L132.1 547.5L132.2 548.0L132.3 548.2L132.4 548.8L132.5 549.2L132.5 549.8L132.4 550.2L132.3 550.8L132.2 551.0L132.0 551.3L131.7 551.5L131.2 551.6L130.9 551.5L130.6 551.2L130.4 551.0L130.2 550.5L130.2 550.2L130.2 549.8L130.2 549.2L130.2 548.8L130.3 548.5L130.4 548.0L130.5 547.7L130.6 547.2L130.7 546.8L130.7 546.2L130.5 545.8L130.5 545.5L130.3 545.0L130.2 544.8L130.0 544.2L129.9 544.0L129.8 543.5L129.7 543.2L129.6 542.8L129.6 542.2L129.6 541.8L129.7 541.2L129.8 540.8L129.9 540.5L130.0 540.2L130.2 539.8L130.5 539.6L130.8 539.4L131.2 539.2Z" fill="none" stroke="#555555" stroke-width="0.48"/>
<path d="M130.8 540.5L131.0 540.4L131.2 540.3L131.5 540.3L131.8 540.3L132.0 540.5L132.0 540.5L132.2 540.8L132.2 540.9L132.3 541.0L132.4 541.2L132.5 541.5L132.5 541.8L132.5 541.8L132.5 542.0L132.5 542.1L132.5 542.3L132.5 542.5L132.4 542.8L132.3 543.0L132.2 543.2L132.2 543.2L132.1 543.5L132.0 543.7L131.9 543.8L131.8 543.9L131.6 544.0L131.5 544.0L131.2 544.0L131.2 544.0L131.0 543.9L130.9 543.8L130.8 543.6L130.7 543.5L130.6 543.2L130.5 543.1L130.5 543.0L130.4 542.8L130.3 542.5L130.3 542.2L130.3 542.0L130.3 541.8L130.3 541.5L130.4 541.2L130.5 541.0L130.5 540.9L130.6 540.8L130.8 540.6L130.8 540.5Z" fill="none" stroke="#555555" stroke-width="0.48"/>
<rect x="40.20" y="549.60" width="17.30" height="16.20" fill="none" stroke="#8a8a8a" stroke-width="0.7"/>
<rect x="39.50" y="515.20" width="17.50" height="34.40" fill="none" stroke="#3a3a3a" stroke-width="0.8"/>
<line x1="39.50" y1="549.60" x2="57.00" y2="549.60" stroke="#333" stroke-width="0.6"/>
<rect x="122.60" y="549.60" width="17.10" height="16.20" fill="none" stroke="#8a8a8a" stroke-width="0.7"/>
<rect x="121.50" y="515.20" width="17.70" height="34.40" fill="none" stroke="#3a3a3a" stroke-width="0.8"/>
<line x1="121.50" y1="549.60" x2="139.20" y2="549.60" stroke="#333" stroke-width="0.6"/>
<rect x="57.50" y="541.30" width="26.60" height="22.40" fill="none" stroke="#555" stroke-width="0.8"/>
<rect x="139.70" y="541.30" width="26.80" height="22.40" fill="none" stroke="#555" stroke-width="0.8"/>
<text x="50.10" y="509.20" font-size="7.2" text-anchor="middle" fill="#2a2a2a">cDC2</text>
<text x="49.40" y="514.80" font-size="7.2" text-anchor="middle" fill="#2a2a2a">35%</text>
<text x="76.50" y="533.10" font-size="7.2" text-anchor="middle" fill="#2a2a2a">cDC1</text>
<text x="76.00" y="539.30" font-size="7.2" text-anchor="middle" fill="#2a2a2a">19%</text>
<text x="132.50" y="509.20" font-size="7.2" text-anchor="middle" fill="#2a2a2a">cDC2</text>
<text x="132.70" y="514.80" font-size="7.2" text-anchor="middle" fill="#2a2a2a">57%</text>
<text x="160.40" y="533.10" font-size="7.2" text-anchor="middle" fill="#2a2a2a">cDC1</text>
<text x="159.70" y="539.30" font-size="7.2" text-anchor="middle" fill="#2a2a2a">17%</text>
<text x="370.20" y="346.50" font-size="10.8" text-anchor="middle" fill="#222" stroke="#222" stroke-width="0.1">orthotopic KPC.1</text>
<line x1="274.80" y1="348.50" x2="485.00" y2="348.50" stroke="#7a7a7a" stroke-width="1.1"/>
<text x="259.50" y="361.30" font-size="8.8" text-anchor="middle" fill="#222" stroke="#222" stroke-width="0.12">MHC II</text>
<rect x="243.45" y="422.75" width="12.40" height="13.95" fill="#626262" stroke="#1c1c1c" stroke-width="0.9"/>
<line x1="249.65" y1="420.30" x2="249.65" y2="424.40" stroke="#111" stroke-width="1.0"/>
<line x1="245.45" y1="420.30" x2="253.85" y2="420.30" stroke="#111" stroke-width="1.0"/>
<line x1="245.45" y1="424.40" x2="253.85" y2="424.40" stroke="#111" stroke-width="1.0"/>
<rect x="262.65" y="408.15" width="12.80" height="28.55" fill="#2ba1af" stroke="#1c1c1c" stroke-width="0.9"/>
<line x1="269.05" y1="404.80" x2="269.05" y2="410.40" stroke="#111" stroke-width="1.0"/>
<line x1="264.85" y1="404.80" x2="273.25" y2="404.80" stroke="#111" stroke-width="1.0"/>
<line x1="264.85" y1="410.40" x2="273.25" y2="410.40" stroke="#111" stroke-width="1.0"/>
<line x1="236.60" y1="368.70" x2="236.60" y2="437.30" stroke="#4c4c4c" stroke-width="1.25"/>
<line x1="236.00" y1="436.70" x2="281.50" y2="436.70" stroke="#4c4c4c" stroke-width="1.25"/>
<line x1="233.30" y1="369.30" x2="236.60" y2="369.30" stroke="#4c4c4c" stroke-width="1.1"/>
<text x="232.70" y="371.80" font-size="6.85" text-anchor="end" fill="#222" stroke="#222" stroke-width="0.12">6000</text>
<line x1="233.30" y1="391.60" x2="236.60" y2="391.60" stroke="#4c4c4c" stroke-width="1.1"/>
<text x="232.70" y="394.10" font-size="6.85" text-anchor="end" fill="#222" stroke="#222" stroke-width="0.12">4000</text>
<line x1="233.30" y1="413.90" x2="236.60" y2="413.90" stroke="#4c4c4c" stroke-width="1.1"/>
<text x="232.70" y="416.40" font-size="6.85" text-anchor="end" fill="#222" stroke="#222" stroke-width="0.12">2000</text>
<line x1="233.30" y1="436.70" x2="236.60" y2="436.70" stroke="#4c4c4c" stroke-width="1.1"/>
<text x="232.70" y="439.20" font-size="6.85" text-anchor="end" fill="#222" stroke="#222" stroke-width="0.12">0</text>
<circle cx="249.48" cy="402.07" r="1.65" fill="#0a0a0a"/>
<circle cx="249.48" cy="413.79" r="1.65" fill="#0a0a0a"/>
<circle cx="247.24" cy="417.59" r="1.65" fill="#0a0a0a"/>
<circle cx="251.90" cy="418.28" r="1.65" fill="#0a0a0a"/>
<circle cx="245.00" cy="420.34" r="1.65" fill="#0a0a0a"/>
<circle cx="249.48" cy="420.34" r="1.65" fill="#0a0a0a"/>
<circle cx="253.97" cy="420.34" r="1.65" fill="#0a0a0a"/>
<circle cx="244.31" cy="422.76" r="1.65" fill="#0a0a0a"/>
<circle cx="248.10" cy="422.76" r="1.65" fill="#0a0a0a"/>
<circle cx="251.90" cy="422.76" r="1.65" fill="#0a0a0a"/>
<circle cx="255.00" cy="422.76" r="1.65" fill="#0a0a0a"/>
<circle cx="245.69" cy="425.17" r="1.65" fill="#0a0a0a"/>
<circle cx="250.17" cy="425.17" r="1.65" fill="#0a0a0a"/>
<circle cx="253.97" cy="425.17" r="1.65" fill="#0a0a0a"/>
<circle cx="247.07" cy="427.59" r="1.65" fill="#0a0a0a"/>
<circle cx="251.55" cy="427.59" r="1.65" fill="#0a0a0a"/>
<circle cx="249.14" cy="430.00" r="1.65" fill="#0a0a0a"/>
<circle cx="269.14" cy="372.76" r="1.65" fill="#0a0a0a"/>
<circle cx="266.72" cy="393.97" r="1.65" fill="#0a0a0a"/>
<circle cx="271.38" cy="393.10" r="1.65" fill="#0a0a0a"/>
<circle cx="269.14" cy="399.14" r="1.65" fill="#0a0a0a"/>
<circle cx="265.69" cy="404.83" r="1.65" fill="#0a0a0a"/>
<circle cx="272.59" cy="404.83" r="1.65" fill="#0a0a0a"/>
<circle cx="264.66" cy="408.62" r="1.65" fill="#0a0a0a"/>
<circle cx="269.14" cy="408.62" r="1.65" fill="#0a0a0a"/>
<circle cx="273.28" cy="408.62" r="1.65" fill="#0a0a0a"/>
<circle cx="265.69" cy="412.41" r="1.65" fill="#0a0a0a"/>
<circle cx="270.52" cy="412.41" r="1.65" fill="#0a0a0a"/>
<circle cx="264.66" cy="416.21" r="1.65" fill="#0a0a0a"/>
<circle cx="269.14" cy="416.21" r="1.65" fill="#0a0a0a"/>
<circle cx="272.93" cy="416.21" r="1.65" fill="#0a0a0a"/>
<circle cx="266.72" cy="420.00" r="1.65" fill="#0a0a0a"/>
<circle cx="271.55" cy="420.00" r="1.65" fill="#0a0a0a"/>
<circle cx="265.00" cy="423.45" r="1.65" fill="#0a0a0a"/>
<text x="257.00" y="384.40" font-size="7.3" text-anchor="middle" fill="#3c3c3c" stroke="#3c3c3c" stroke-width="0.05">p&lt;0.001</text>
<text x="246.60" y="445.00" font-size="7.2" text-anchor="middle" fill="#222" stroke="#222" stroke-width="0.1">vehicle</text>
<text x="272.30" y="445.00" font-size="7.2" text-anchor="middle" fill="#222" stroke="#222" stroke-width="0.1">LCL-161</text>
<text x="216.00" y="401.80" font-size="6.85" text-anchor="middle" fill="#222" transform="rotate(-90 216.00 401.80)" stroke="#222" stroke-width="0.1">MFI of MHCII on CD11c+</text>
<text x="334.70" y="361.30" font-size="8.8" text-anchor="middle" fill="#222" stroke="#222" stroke-width="0.12">total DC</text>
<rect x="319.55" y="415.65" width="12.00" height="21.05" fill="#626262" stroke="#1c1c1c" stroke-width="0.9"/>
<line x1="325.55" y1="413.40" x2="325.55" y2="417.00" stroke="#111" stroke-width="1.0"/>
<line x1="321.35" y1="413.40" x2="329.75" y2="413.40" stroke="#111" stroke-width="1.0"/>
<line x1="321.35" y1="417.00" x2="329.75" y2="417.00" stroke="#111" stroke-width="1.0"/>
<rect x="338.85" y="414.55" width="12.20" height="22.15" fill="#2ba1af" stroke="#1c1c1c" stroke-width="0.9"/>
<line x1="344.95" y1="411.70" x2="344.95" y2="416.80" stroke="#111" stroke-width="1.0"/>
<line x1="340.75" y1="411.70" x2="349.15" y2="411.70" stroke="#111" stroke-width="1.0"/>
<line x1="340.75" y1="416.80" x2="349.15" y2="416.80" stroke="#111" stroke-width="1.0"/>
<line x1="312.60" y1="368.40" x2="312.60" y2="437.30" stroke="#4c4c4c" stroke-width="1.25"/>
<line x1="312.00" y1="436.70" x2="358.00" y2="436.70" stroke="#4c4c4c" stroke-width="1.25"/>
<line x1="309.80" y1="369.00" x2="312.60" y2="369.00" stroke="#4c4c4c" stroke-width="1.1"/>
<text x="309.20" y="371.50" font-size="7.3" text-anchor="end" fill="#222" stroke="#222" stroke-width="0.12">25</text>
<line x1="309.80" y1="382.40" x2="312.60" y2="382.40" stroke="#4c4c4c" stroke-width="1.1"/>
<text x="309.20" y="384.90" font-size="7.3" text-anchor="end" fill="#222" stroke="#222" stroke-width="0.12">20</text>
<line x1="309.80" y1="395.90" x2="312.60" y2="395.90" stroke="#4c4c4c" stroke-width="1.1"/>
<text x="309.20" y="398.40" font-size="7.3" text-anchor="end" fill="#222" stroke="#222" stroke-width="0.12">15</text>
<line x1="309.80" y1="409.40" x2="312.60" y2="409.40" stroke="#4c4c4c" stroke-width="1.1"/>
<text x="309.20" y="411.90" font-size="7.3" text-anchor="end" fill="#222" stroke="#222" stroke-width="0.12">10</text>
<line x1="309.80" y1="422.80" x2="312.60" y2="422.80" stroke="#4c4c4c" stroke-width="1.1"/>
<text x="309.20" y="425.30" font-size="7.3" text-anchor="end" fill="#222" stroke="#222" stroke-width="0.12">5</text>
<line x1="309.80" y1="436.70" x2="312.60" y2="436.70" stroke="#4c4c4c" stroke-width="1.1"/>
<text x="309.20" y="439.20" font-size="7.3" text-anchor="end" fill="#222" stroke="#222" stroke-width="0.12">0</text>
<circle cx="325.52" cy="403.45" r="1.65" fill="#0a0a0a"/>
<circle cx="322.93" cy="406.90" r="1.65" fill="#0a0a0a"/>
<circle cx="328.10" cy="407.93" r="1.65" fill="#0a0a0a"/>
<circle cx="321.21" cy="410.69" r="1.65" fill="#0a0a0a"/>
<circle cx="326.03" cy="411.38" r="1.65" fill="#0a0a0a"/>
<circle cx="330.52" cy="412.41" r="1.65" fill="#0a0a0a"/>
<circle cx="320.52" cy="414.48" r="1.65" fill="#0a0a0a"/>
<circle cx="325.00" cy="414.48" r="1.65" fill="#0a0a0a"/>
<circle cx="329.48" cy="414.48" r="1.65" fill="#0a0a0a"/>
<circle cx="321.90" cy="417.24" r="1.65" fill="#0a0a0a"/>
<circle cx="326.38" cy="417.24" r="1.65" fill="#0a0a0a"/>
<circle cx="330.86" cy="417.24" r="1.65" fill="#0a0a0a"/>
<circle cx="320.52" cy="419.66" r="1.65" fill="#0a0a0a"/>
<circle cx="325.34" cy="419.66" r="1.65" fill="#0a0a0a"/>
<circle cx="329.83" cy="419.66" r="1.65" fill="#0a0a0a"/>
<circle cx="323.28" cy="421.72" r="1.65" fill="#0a0a0a"/>
<circle cx="328.10" cy="421.72" r="1.65" fill="#0a0a0a"/>
<circle cx="345.00" cy="382.41" r="1.65" fill="#0a0a0a"/>
<circle cx="342.76" cy="406.03" r="1.65" fill="#0a0a0a"/>
<circle cx="347.41" cy="407.24" r="1.65" fill="#0a0a0a"/>
<circle cx="345.00" cy="410.34" r="1.65" fill="#0a0a0a"/>
<circle cx="340.86" cy="413.45" r="1.65" fill="#0a0a0a"/>
<circle cx="345.34" cy="413.45" r="1.65" fill="#0a0a0a"/>
<circle cx="349.48" cy="413.45" r="1.65" fill="#0a0a0a"/>
<circle cx="342.24" cy="416.90" r="1.65" fill="#0a0a0a"/>
<circle cx="347.07" cy="416.90" r="1.65" fill="#0a0a0a"/>
<circle cx="340.52" cy="420.00" r="1.65" fill="#0a0a0a"/>
<circle cx="345.00" cy="420.00" r="1.65" fill="#0a0a0a"/>
<circle cx="349.48" cy="420.00" r="1.65" fill="#0a0a0a"/>
<circle cx="343.28" cy="423.10" r="1.65" fill="#0a0a0a"/>
<circle cx="348.10" cy="423.10" r="1.65" fill="#0a0a0a"/>
<circle cx="340.17" cy="424.48" r="1.65" fill="#0a0a0a"/>
<text x="334.50" y="384.20" font-size="7.3" text-anchor="middle" fill="#3c3c3c" stroke="#3c3c3c" stroke-width="0.05">n.s.</text>
<text x="323.30" y="445.00" font-size="7.2" text-anchor="middle" fill="#222" stroke="#222" stroke-width="0.1">vehicle</text>
<text x="348.20" y="445.00" font-size="7.2" text-anchor="middle" fill="#222" stroke="#222" stroke-width="0.1">LCL-161</text>
<text x="300.40" y="402.60" font-size="7.0" text-anchor="middle" fill="#222" transform="rotate(-90 300.40 402.60)" stroke="#222" stroke-width="0.1">CD11c+Gr1- of CD45+</text>
<text x="413.90" y="361.30" font-size="8.8" text-anchor="middle" fill="#222" stroke="#222" stroke-width="0.12">cDC1</text>
<rect x="399.55" y="400.75" width="12.50" height="35.95" fill="#626262" stroke="#1c1c1c" stroke-width="0.9"/>
<line x1="405.80" y1="397.40" x2="405.80" y2="403.30" stroke="#111" stroke-width="1.0"/>
<line x1="401.60" y1="397.40" x2="410.00" y2="397.40" stroke="#111" stroke-width="1.0"/>
<line x1="401.60" y1="403.30" x2="410.00" y2="403.30" stroke="#111" stroke-width="1.0"/>
<rect x="418.55" y="410.75" width="12.50" height="25.95" fill="#2ba1af" stroke="#1c1c1c" stroke-width="0.9"/>
<line x1="424.80" y1="407.40" x2="424.80" y2="413.30" stroke="#111" stroke-width="1.0"/>
<line x1="420.60" y1="407.40" x2="429.00" y2="407.40" stroke="#111" stroke-width="1.0"/>
<line x1="420.60" y1="413.30" x2="429.00" y2="413.30" stroke="#111" stroke-width="1.0"/>
<line x1="393.20" y1="368.60" x2="393.20" y2="437.30" stroke="#4c4c4c" stroke-width="1.25"/>
<line x1="392.60" y1="436.70" x2="438.00" y2="436.70" stroke="#4c4c4c" stroke-width="1.25"/>
<line x1="390.60" y1="369.20" x2="393.20" y2="369.20" stroke="#4c4c4c" stroke-width="1.1"/>
<text x="391.10" y="371.70" font-size="7.2" text-anchor="end" fill="#222" stroke="#222" stroke-width="0.12">2.0</text>
<line x1="390.60" y1="386.00" x2="393.20" y2="386.00" stroke="#4c4c4c" stroke-width="1.1"/>
<text x="391.10" y="388.50" font-size="7.2" text-anchor="end" fill="#222" stroke="#222" stroke-width="0.12">1.5</text>
<line x1="390.60" y1="402.80" x2="393.20" y2="402.80" stroke="#4c4c4c" stroke-width="1.1"/>
<text x="391.10" y="405.30" font-size="7.2" text-anchor="end" fill="#222" stroke="#222" stroke-width="0.12">1.0</text>
<line x1="390.60" y1="419.50" x2="393.20" y2="419.50" stroke="#4c4c4c" stroke-width="1.1"/>
<text x="391.10" y="422.00" font-size="7.2" text-anchor="end" fill="#222" stroke="#222" stroke-width="0.12">0.5</text>
<line x1="390.60" y1="436.70" x2="393.20" y2="436.70" stroke="#4c4c4c" stroke-width="1.1"/>
<text x="391.10" y="439.20" font-size="7.2" text-anchor="end" fill="#222" stroke="#222" stroke-width="0.12">0.0</text>
<circle cx="405.52" cy="373.28" r="1.65" fill="#0a0a0a"/>
<circle cx="400.34" cy="389.31" r="1.65" fill="#0a0a0a"/>
<circle cx="405.52" cy="391.03" r="1.65" fill="#0a0a0a"/>
<circle cx="410.69" cy="395.69" r="1.65" fill="#0a0a0a"/>
<circle cx="405.00" cy="399.14" r="1.65" fill="#0a0a0a"/>
<circle cx="400.34" cy="401.72" r="1.65" fill="#0a0a0a"/>
<circle cx="410.17" cy="401.72" r="1.65" fill="#0a0a0a"/>
<circle cx="405.00" cy="404.31" r="1.65" fill="#0a0a0a"/>
<circle cx="400.34" cy="406.03" r="1.65" fill="#0a0a0a"/>
<circle cx="410.17" cy="406.90" r="1.65" fill="#0a0a0a"/>
<circle cx="405.34" cy="407.59" r="1.65" fill="#0a0a0a"/>
<circle cx="400.34" cy="409.83" r="1.65" fill="#0a0a0a"/>
<circle cx="410.69" cy="411.38" r="1.65" fill="#0a0a0a"/>
<circle cx="405.69" cy="414.14" r="1.65" fill="#0a0a0a"/>
<circle cx="405.52" cy="420.34" r="1.65" fill="#0a0a0a"/>
<circle cx="425.34" cy="396.55" r="1.65" fill="#0a0a0a"/>
<circle cx="423.62" cy="400.86" r="1.65" fill="#0a0a0a"/>
<circle cx="427.07" cy="398.79" r="1.65" fill="#0a0a0a"/>
<circle cx="419.83" cy="405.52" r="1.65" fill="#0a0a0a"/>
<circle cx="424.48" cy="406.21" r="1.65" fill="#0a0a0a"/>
<circle cx="428.45" cy="404.83" r="1.65" fill="#0a0a0a"/>
<circle cx="421.03" cy="409.66" r="1.65" fill="#0a0a0a"/>
<circle cx="427.07" cy="409.66" r="1.65" fill="#0a0a0a"/>
<circle cx="424.48" cy="413.10" r="1.65" fill="#0a0a0a"/>
<circle cx="429.66" cy="415.52" r="1.65" fill="#0a0a0a"/>
<circle cx="420.17" cy="416.55" r="1.65" fill="#0a0a0a"/>
<circle cx="425.34" cy="418.97" r="1.65" fill="#0a0a0a"/>
<circle cx="423.97" cy="421.38" r="1.65" fill="#0a0a0a"/>
<circle cx="429.14" cy="421.38" r="1.65" fill="#0a0a0a"/>
<circle cx="425.00" cy="427.59" r="1.65" fill="#0a0a0a"/>
<text x="416.00" y="384.20" font-size="7.3" text-anchor="middle" fill="#3c3c3c" stroke="#3c3c3c" stroke-width="0.05">p=0.037</text>
<text x="402.60" y="445.00" font-size="7.2" text-anchor="middle" fill="#222" stroke="#222" stroke-width="0.1">vehicle</text>
<text x="428.00" y="445.00" font-size="7.2" text-anchor="middle" fill="#222" stroke="#222" stroke-width="0.1">LCL-161</text>
<text x="379.00" y="402.20" font-size="6.8" text-anchor="middle" fill="#222" transform="rotate(-90 379.00 402.20)" stroke="#222" stroke-width="0.1">% cDC1 of CD45+</text>
<text x="492.30" y="361.30" font-size="8.8" text-anchor="middle" fill="#222" stroke="#222" stroke-width="0.12">cDC2</text>
<rect x="477.55" y="417.35" width="12.10" height="19.35" fill="#626262" stroke="#1c1c1c" stroke-width="0.9"/>
<line x1="483.60" y1="415.10" x2="483.60" y2="418.80" stroke="#111" stroke-width="1.0"/>
<line x1="479.40" y1="415.10" x2="487.80" y2="415.10" stroke="#111" stroke-width="1.0"/>
<line x1="479.40" y1="418.80" x2="487.80" y2="418.80" stroke="#111" stroke-width="1.0"/>
<rect x="497.05" y="415.65" width="12.00" height="21.05" fill="#2ba1af" stroke="#1c1c1c" stroke-width="0.9"/>
<line x1="503.05" y1="411.50" x2="503.05" y2="419.00" stroke="#111" stroke-width="1.0"/>
<line x1="498.85" y1="411.50" x2="507.25" y2="411.50" stroke="#111" stroke-width="1.0"/>
<line x1="498.85" y1="419.00" x2="507.25" y2="419.00" stroke="#111" stroke-width="1.0"/>
<line x1="470.80" y1="368.60" x2="470.80" y2="437.30" stroke="#4c4c4c" stroke-width="1.25"/>
<line x1="470.20" y1="436.70" x2="514.50" y2="436.70" stroke="#4c4c4c" stroke-width="1.25"/>
<line x1="467.40" y1="369.20" x2="470.80" y2="369.20" stroke="#4c4c4c" stroke-width="1.1"/>
<text x="466.50" y="371.70" font-size="7.3" text-anchor="end" fill="#222" stroke="#222" stroke-width="0.12">20</text>
<line x1="467.40" y1="386.00" x2="470.80" y2="386.00" stroke="#4c4c4c" stroke-width="1.1"/>
<text x="466.50" y="388.50" font-size="7.3" text-anchor="end" fill="#222" stroke="#222" stroke-width="0.12">15</text>
<line x1="467.40" y1="402.80" x2="470.80" y2="402.80" stroke="#4c4c4c" stroke-width="1.1"/>
<text x="466.50" y="405.30" font-size="7.3" text-anchor="end" fill="#222" stroke="#222" stroke-width="0.12">10</text>
<line x1="467.40" y1="419.50" x2="470.80" y2="419.50" stroke="#4c4c4c" stroke-width="1.1"/>
<text x="466.50" y="422.00" font-size="7.3" text-anchor="end" fill="#222" stroke="#222" stroke-width="0.12">5</text>
<line x1="467.40" y1="436.70" x2="470.80" y2="436.70" stroke="#4c4c4c" stroke-width="1.1"/>
<text x="466.50" y="439.20" font-size="7.3" text-anchor="end" fill="#222" stroke="#222" stroke-width="0.12">0</text>
<circle cx="483.10" cy="407.76" r="1.65" fill="#0a0a0a"/>
<circle cx="480.52" cy="410.00" r="1.65" fill="#0a0a0a"/>
<circle cx="485.69" cy="410.00" r="1.65" fill="#0a0a0a"/>
<circle cx="481.38" cy="414.66" r="1.65" fill="#0a0a0a"/>
<circle cx="485.17" cy="415.86" r="1.65" fill="#0a0a0a"/>
<circle cx="479.31" cy="418.28" r="1.65" fill="#0a0a0a"/>
<circle cx="483.79" cy="418.28" r="1.65" fill="#0a0a0a"/>
<circle cx="488.28" cy="418.28" r="1.65" fill="#0a0a0a"/>
<circle cx="480.69" cy="420.69" r="1.65" fill="#0a0a0a"/>
<circle cx="485.17" cy="420.69" r="1.65" fill="#0a0a0a"/>
<circle cx="489.31" cy="420.69" r="1.65" fill="#0a0a0a"/>
<circle cx="479.31" cy="423.10" r="1.65" fill="#0a0a0a"/>
<circle cx="483.10" cy="423.10" r="1.65" fill="#0a0a0a"/>
<circle cx="487.24" cy="423.10" r="1.65" fill="#0a0a0a"/>
<circle cx="481.38" cy="425.52" r="1.65" fill="#0a0a0a"/>
<circle cx="485.86" cy="425.52" r="1.65" fill="#0a0a0a"/>
<circle cx="502.41" cy="383.10" r="1.65" fill="#0a0a0a"/>
<circle cx="502.41" cy="404.31" r="1.65" fill="#0a0a0a"/>
<circle cx="500.00" cy="407.24" r="1.65" fill="#0a0a0a"/>
<circle cx="505.17" cy="407.93" r="1.65" fill="#0a0a0a"/>
<circle cx="502.41" cy="410.69" r="1.65" fill="#0a0a0a"/>
<circle cx="498.97" cy="416.21" r="1.65" fill="#0a0a0a"/>
<circle cx="503.79" cy="416.21" r="1.65" fill="#0a0a0a"/>
<circle cx="507.93" cy="416.21" r="1.65" fill="#0a0a0a"/>
<circle cx="497.93" cy="419.31" r="1.65" fill="#0a0a0a"/>
<circle cx="502.07" cy="419.31" r="1.65" fill="#0a0a0a"/>
<circle cx="506.90" cy="419.31" r="1.65" fill="#0a0a0a"/>
<circle cx="499.66" cy="422.41" r="1.65" fill="#0a0a0a"/>
<circle cx="504.48" cy="422.41" r="1.65" fill="#0a0a0a"/>
<circle cx="498.62" cy="425.17" r="1.65" fill="#0a0a0a"/>
<circle cx="502.41" cy="425.17" r="1.65" fill="#0a0a0a"/>
<circle cx="506.55" cy="425.17" r="1.65" fill="#0a0a0a"/>
<text x="491.80" y="384.20" font-size="7.3" text-anchor="middle" fill="#3c3c3c" stroke="#3c3c3c" stroke-width="0.05">n.s.</text>
<text x="479.50" y="445.00" font-size="7.2" text-anchor="middle" fill="#222" stroke="#222" stroke-width="0.1">vehicle</text>
<text x="505.90" y="445.00" font-size="7.2" text-anchor="middle" fill="#222" stroke="#222" stroke-width="0.1">LCL-161</text>
<text x="458.00" y="402.60" font-size="6.7" text-anchor="middle" fill="#222" transform="rotate(-90 458.00 402.60)" stroke="#222" stroke-width="0.1">% cDC2 of CD45+</text>
<text x="373.60" y="478.80" font-size="10.8" text-anchor="middle" fill="#222" stroke="#222" stroke-width="0.1">orthotopic 6694c2</text>
<line x1="280.60" y1="480.60" x2="489.30" y2="480.60" stroke="#7a7a7a" stroke-width="1.1"/>
<text x="260.00" y="498.40" font-size="8.8" text-anchor="middle" fill="#222" stroke="#222" stroke-width="0.12">MHC II</text>
<rect x="242.85" y="549.55" width="12.60" height="21.25" fill="#626262" stroke="#1c1c1c" stroke-width="0.9"/>
<line x1="249.15" y1="547.20" x2="249.15" y2="551.20" stroke="#111" stroke-width="1.0"/>
<line x1="244.95" y1="547.20" x2="253.35" y2="547.20" stroke="#111" stroke-width="1.0"/>
<line x1="244.95" y1="551.20" x2="253.35" y2="551.20" stroke="#111" stroke-width="1.0"/>
<rect x="262.35" y="530.75" width="12.40" height="40.05" fill="#2ba1af" stroke="#1c1c1c" stroke-width="0.9"/>
<line x1="268.55" y1="524.30" x2="268.55" y2="536.70" stroke="#111" stroke-width="1.0"/>
<line x1="264.35" y1="524.30" x2="272.75" y2="524.30" stroke="#111" stroke-width="1.0"/>
<line x1="264.35" y1="536.70" x2="272.75" y2="536.70" stroke="#111" stroke-width="1.0"/>
<line x1="236.70" y1="502.50" x2="236.70" y2="571.40" stroke="#4c4c4c" stroke-width="1.25"/>
<line x1="236.10" y1="570.80" x2="281.50" y2="570.80" stroke="#4c4c4c" stroke-width="1.25"/>
<line x1="233.40" y1="503.10" x2="236.70" y2="503.10" stroke="#4c4c4c" stroke-width="1.1"/>
<text x="232.80" y="505.60" font-size="6.9" text-anchor="end" fill="#222" stroke="#222" stroke-width="0.12">800</text>
<line x1="233.40" y1="520.00" x2="236.70" y2="520.00" stroke="#4c4c4c" stroke-width="1.1"/>
<text x="232.80" y="522.50" font-size="6.9" text-anchor="end" fill="#222" stroke="#222" stroke-width="0.12">600</text>
<line x1="233.40" y1="536.90" x2="236.70" y2="536.90" stroke="#4c4c4c" stroke-width="1.1"/>
<text x="232.80" y="539.40" font-size="6.9" text-anchor="end" fill="#222" stroke="#222" stroke-width="0.12">400</text>
<line x1="233.40" y1="553.80" x2="236.70" y2="553.80" stroke="#4c4c4c" stroke-width="1.1"/>
<text x="232.80" y="556.30" font-size="6.9" text-anchor="end" fill="#222" stroke="#222" stroke-width="0.12">200</text>
<line x1="233.40" y1="570.80" x2="236.70" y2="570.80" stroke="#4c4c4c" stroke-width="1.1"/>
<text x="232.80" y="573.30" font-size="6.9" text-anchor="end" fill="#222" stroke="#222" stroke-width="0.12">0</text>
<circle cx="245.00" cy="548.45" r="1.65" fill="#0a0a0a"/>
<circle cx="249.48" cy="547.07" r="1.65" fill="#0a0a0a"/>
<circle cx="254.14" cy="549.66" r="1.65" fill="#0a0a0a"/>
<circle cx="249.48" cy="553.10" r="1.65" fill="#0a0a0a"/>
<circle cx="247.41" cy="550.52" r="1.65" fill="#0a0a0a"/>
<circle cx="268.45" cy="509.48" r="1.65" fill="#0a0a0a"/>
<circle cx="265.69" cy="530.17" r="1.65" fill="#0a0a0a"/>
<circle cx="271.38" cy="530.69" r="1.65" fill="#0a0a0a"/>
<circle cx="268.45" cy="537.59" r="1.65" fill="#0a0a0a"/>
<circle cx="268.45" cy="545.34" r="1.65" fill="#0a0a0a"/>
<text x="257.80" y="517.60" font-size="7.3" text-anchor="middle" fill="#3c3c3c" stroke="#3c3c3c" stroke-width="0.05">p=0.0079</text>
<text x="246.00" y="579.10" font-size="7.2" text-anchor="middle" fill="#222" stroke="#222" stroke-width="0.1">vehicle</text>
<text x="271.90" y="579.10" font-size="7.2" text-anchor="middle" fill="#222" stroke="#222" stroke-width="0.1">LCL-161</text>
<text x="217.00" y="535.00" font-size="6.85" text-anchor="middle" fill="#222" transform="rotate(-90 217.00 535.00)" stroke="#222" stroke-width="0.1">MFI of MHCII on CD11c+</text>
<text x="335.60" y="498.40" font-size="8.8" text-anchor="middle" fill="#222" stroke="#222" stroke-width="0.12">total DC</text>
<rect x="319.55" y="547.15" width="12.00" height="23.25" fill="#626262" stroke="#1c1c1c" stroke-width="0.9"/>
<line x1="325.55" y1="545.60" x2="325.55" y2="548.60" stroke="#111" stroke-width="1.0"/>
<line x1="321.35" y1="545.60" x2="329.75" y2="545.60" stroke="#111" stroke-width="1.0"/>
<line x1="321.35" y1="548.60" x2="329.75" y2="548.60" stroke="#111" stroke-width="1.0"/>
<rect x="338.85" y="536.35" width="12.20" height="34.05" fill="#2ba1af" stroke="#1c1c1c" stroke-width="0.9"/>
<line x1="344.95" y1="532.60" x2="344.95" y2="539.50" stroke="#111" stroke-width="1.0"/>
<line x1="340.75" y1="532.60" x2="349.15" y2="532.60" stroke="#111" stroke-width="1.0"/>
<line x1="340.75" y1="539.50" x2="349.15" y2="539.50" stroke="#111" stroke-width="1.0"/>
<line x1="312.50" y1="502.20" x2="312.50" y2="571.00" stroke="#4c4c4c" stroke-width="1.25"/>
<line x1="311.90" y1="570.40" x2="358.00" y2="570.40" stroke="#4c4c4c" stroke-width="1.25"/>
<line x1="309.70" y1="502.80" x2="312.50" y2="502.80" stroke="#4c4c4c" stroke-width="1.1"/>
<text x="309.10" y="505.30" font-size="7.3" text-anchor="end" fill="#222" stroke="#222" stroke-width="0.12">20</text>
<line x1="309.70" y1="519.70" x2="312.50" y2="519.70" stroke="#4c4c4c" stroke-width="1.1"/>
<text x="309.10" y="522.20" font-size="7.3" text-anchor="end" fill="#222" stroke="#222" stroke-width="0.12">15</text>
<line x1="309.70" y1="536.60" x2="312.50" y2="536.60" stroke="#4c4c4c" stroke-width="1.1"/>
<text x="309.10" y="539.10" font-size="7.3" text-anchor="end" fill="#222" stroke="#222" stroke-width="0.12">10</text>
<line x1="309.70" y1="553.50" x2="312.50" y2="553.50" stroke="#4c4c4c" stroke-width="1.1"/>
<text x="309.10" y="556.00" font-size="7.3" text-anchor="end" fill="#222" stroke="#222" stroke-width="0.12">5</text>
<line x1="309.70" y1="570.40" x2="312.50" y2="570.40" stroke="#4c4c4c" stroke-width="1.1"/>
<text x="309.10" y="572.90" font-size="7.3" text-anchor="end" fill="#222" stroke="#222" stroke-width="0.12">0</text>
<circle cx="320.34" cy="539.83" r="1.65" fill="#0a0a0a"/>
<circle cx="325.52" cy="538.45" r="1.65" fill="#0a0a0a"/>
<circle cx="320.34" cy="545.69" r="1.65" fill="#0a0a0a"/>
<circle cx="325.69" cy="545.69" r="1.65" fill="#0a0a0a"/>
<circle cx="330.17" cy="547.93" r="1.65" fill="#0a0a0a"/>
<circle cx="320.34" cy="549.83" r="1.65" fill="#0a0a0a"/>
<circle cx="325.52" cy="550.52" r="1.65" fill="#0a0a0a"/>
<circle cx="330.17" cy="551.55" r="1.65" fill="#0a0a0a"/>
<circle cx="320.34" cy="555.34" r="1.65" fill="#0a0a0a"/>
<circle cx="325.52" cy="555.34" r="1.65" fill="#0a0a0a"/>
<circle cx="330.17" cy="555.34" r="1.65" fill="#0a0a0a"/>
<circle cx="344.48" cy="520.34" r="1.65" fill="#0a0a0a"/>
<circle cx="344.48" cy="525.52" r="1.65" fill="#0a0a0a"/>
<circle cx="344.48" cy="529.48" r="1.65" fill="#0a0a0a"/>
<circle cx="339.83" cy="536.72" r="1.65" fill="#0a0a0a"/>
<circle cx="349.66" cy="536.38" r="1.65" fill="#0a0a0a"/>
<circle cx="344.48" cy="538.45" r="1.65" fill="#0a0a0a"/>
<circle cx="339.83" cy="540.00" r="1.65" fill="#0a0a0a"/>
<circle cx="349.14" cy="540.17" r="1.65" fill="#0a0a0a"/>
<circle cx="344.48" cy="542.93" r="1.65" fill="#0a0a0a"/>
<circle cx="349.14" cy="544.66" r="1.65" fill="#0a0a0a"/>
<circle cx="344.48" cy="554.83" r="1.65" fill="#0a0a0a"/>
<text x="335.60" y="517.60" font-size="7.3" text-anchor="middle" fill="#3c3c3c" stroke="#3c3c3c" stroke-width="0.05">p=0.0029</text>
<text x="322.90" y="578.40" font-size="7.2" text-anchor="middle" fill="#222" stroke="#222" stroke-width="0.1">vehicle</text>
<text x="348.30" y="578.40" font-size="7.2" text-anchor="middle" fill="#222" stroke="#222" stroke-width="0.1">LCL-161</text>
<text x="300.20" y="535.90" font-size="7.0" text-anchor="middle" fill="#222" transform="rotate(-90 300.20 535.90)" stroke="#222" stroke-width="0.1">CD11c+Gr1- of CD45+</text>
<text x="418.30" y="496.60" font-size="8.8" text-anchor="middle" fill="#222" stroke="#222" stroke-width="0.12">cDC1</text>
<rect x="400.45" y="548.75" width="12.10" height="20.75" fill="#626262" stroke="#1c1c1c" stroke-width="0.9"/>
<line x1="406.50" y1="540.50" x2="406.50" y2="556.50" stroke="#111" stroke-width="1.0"/>
<line x1="402.30" y1="540.50" x2="410.70" y2="540.50" stroke="#111" stroke-width="1.0"/>
<line x1="402.30" y1="556.50" x2="410.70" y2="556.50" stroke="#111" stroke-width="1.0"/>
<rect x="419.75" y="551.85" width="12.10" height="17.65" fill="#2ba1af" stroke="#1c1c1c" stroke-width="0.9"/>
<line x1="425.80" y1="550.20" x2="425.80" y2="552.80" stroke="#111" stroke-width="1.0"/>
<line x1="421.60" y1="550.20" x2="430.00" y2="550.20" stroke="#111" stroke-width="1.0"/>
<line x1="421.60" y1="552.80" x2="430.00" y2="552.80" stroke="#111" stroke-width="1.0"/>
<line x1="393.60" y1="501.60" x2="393.60" y2="570.10" stroke="#4c4c4c" stroke-width="1.25"/>
<line x1="393.00" y1="569.50" x2="438.00" y2="569.50" stroke="#4c4c4c" stroke-width="1.25"/>
<line x1="390.20" y1="502.20" x2="393.60" y2="502.20" stroke="#4c4c4c" stroke-width="1.1"/>
<text x="389.40" y="504.70" font-size="7.3" text-anchor="end" fill="#222" stroke="#222" stroke-width="0.12">4</text>
<line x1="390.20" y1="519.00" x2="393.60" y2="519.00" stroke="#4c4c4c" stroke-width="1.1"/>
<text x="389.40" y="521.50" font-size="7.3" text-anchor="end" fill="#222" stroke="#222" stroke-width="0.12">3</text>
<line x1="390.20" y1="535.90" x2="393.60" y2="535.90" stroke="#4c4c4c" stroke-width="1.1"/>
<text x="389.40" y="538.40" font-size="7.3" text-anchor="end" fill="#222" stroke="#222" stroke-width="0.12">2</text>
<line x1="390.20" y1="552.70" x2="393.60" y2="552.70" stroke="#4c4c4c" stroke-width="1.1"/>
<text x="389.40" y="555.20" font-size="7.3" text-anchor="end" fill="#222" stroke="#222" stroke-width="0.12">1</text>
<line x1="390.20" y1="569.50" x2="393.60" y2="569.50" stroke="#4c4c4c" stroke-width="1.1"/>
<text x="389.40" y="572.00" font-size="7.3" text-anchor="end" fill="#222" stroke="#222" stroke-width="0.12">0</text>
<circle cx="406.38" cy="521.55" r="1.65" fill="#0a0a0a"/>
<circle cx="406.38" cy="544.48" r="1.65" fill="#0a0a0a"/>
<circle cx="406.38" cy="555.34" r="1.65" fill="#0a0a0a"/>
<circle cx="403.28" cy="559.48" r="1.65" fill="#0a0a0a"/>
<circle cx="409.48" cy="558.79" r="1.65" fill="#0a0a0a"/>
<circle cx="425.00" cy="547.41" r="1.65" fill="#0a0a0a"/>
<circle cx="420.52" cy="551.38" r="1.65" fill="#0a0a0a"/>
<circle cx="425.34" cy="552.24" r="1.65" fill="#0a0a0a"/>
<circle cx="429.66" cy="551.38" r="1.65" fill="#0a0a0a"/>
<circle cx="425.00" cy="557.41" r="1.65" fill="#0a0a0a"/>
<text x="398.50" y="523.30" font-size="7.3" text-anchor="middle" fill="#3c3c3c" stroke="#3c3c3c" stroke-width="0.05">n.s.</text>
<text x="416.30" y="517.20" font-size="7.3" text-anchor="middle" fill="#3c3c3c" stroke="#3c3c3c" stroke-width="0.05">n.s.</text>
<text x="402.60" y="578.30" font-size="7.2" text-anchor="middle" fill="#222" stroke="#222" stroke-width="0.1">vehicle</text>
<text x="428.00" y="578.30" font-size="7.2" text-anchor="middle" fill="#222" stroke="#222" stroke-width="0.1">LCL-161</text>
<text x="381.40" y="536.70" font-size="6.9" text-anchor="middle" fill="#222" transform="rotate(-90 381.40 536.70)" stroke="#222" stroke-width="0.1">% cDC1 of CD45+</text>
<text x="492.30" y="496.60" font-size="8.8" text-anchor="middle" fill="#222" stroke="#222" stroke-width="0.12">cDC2</text>
<rect x="477.55" y="554.05" width="12.10" height="15.15" fill="#626262" stroke="#1c1c1c" stroke-width="0.9"/>
<line x1="483.60" y1="551.60" x2="483.60" y2="555.80" stroke="#111" stroke-width="1.0"/>
<line x1="479.40" y1="551.60" x2="487.80" y2="551.60" stroke="#111" stroke-width="1.0"/>
<line x1="479.40" y1="555.80" x2="487.80" y2="555.80" stroke="#111" stroke-width="1.0"/>
<rect x="497.05" y="528.55" width="12.00" height="40.65" fill="#2ba1af" stroke="#1c1c1c" stroke-width="0.9"/>
<line x1="503.05" y1="525.00" x2="503.05" y2="531.40" stroke="#111" stroke-width="1.0"/>
<line x1="498.85" y1="525.00" x2="507.25" y2="525.00" stroke="#111" stroke-width="1.0"/>
<line x1="498.85" y1="531.40" x2="507.25" y2="531.40" stroke="#111" stroke-width="1.0"/>
<line x1="470.70" y1="501.30" x2="470.70" y2="569.80" stroke="#4c4c4c" stroke-width="1.25"/>
<line x1="470.10" y1="569.20" x2="514.50" y2="569.20" stroke="#4c4c4c" stroke-width="1.25"/>
<line x1="467.30" y1="501.90" x2="470.70" y2="501.90" stroke="#4c4c4c" stroke-width="1.1"/>
<text x="466.40" y="504.40" font-size="7.3" text-anchor="end" fill="#222" stroke="#222" stroke-width="0.12">8</text>
<line x1="467.30" y1="518.70" x2="470.70" y2="518.70" stroke="#4c4c4c" stroke-width="1.1"/>
<text x="466.40" y="521.20" font-size="7.3" text-anchor="end" fill="#222" stroke="#222" stroke-width="0.12">6</text>
<line x1="467.30" y1="535.50" x2="470.70" y2="535.50" stroke="#4c4c4c" stroke-width="1.1"/>
<text x="466.40" y="538.00" font-size="7.3" text-anchor="end" fill="#222" stroke="#222" stroke-width="0.12">4</text>
<line x1="467.30" y1="552.40" x2="470.70" y2="552.40" stroke="#4c4c4c" stroke-width="1.1"/>
<text x="466.40" y="554.90" font-size="7.3" text-anchor="end" fill="#222" stroke="#222" stroke-width="0.12">2</text>
<line x1="467.30" y1="569.20" x2="470.70" y2="569.20" stroke="#4c4c4c" stroke-width="1.1"/>
<text x="466.40" y="571.70" font-size="7.3" text-anchor="end" fill="#222" stroke="#222" stroke-width="0.12">0</text>
<circle cx="483.45" cy="547.07" r="1.65" fill="#0a0a0a"/>
<circle cx="478.79" cy="553.97" r="1.65" fill="#0a0a0a"/>
<circle cx="483.10" cy="555.00" r="1.65" fill="#0a0a0a"/>
<circle cx="486.90" cy="554.83" r="1.65" fill="#0a0a0a"/>
<circle cx="481.03" cy="556.21" r="1.65" fill="#0a0a0a"/>
<circle cx="502.41" cy="518.10" r="1.65" fill="#0a0a0a"/>
<circle cx="502.41" cy="524.31" r="1.65" fill="#0a0a0a"/>
<circle cx="497.41" cy="533.62" r="1.65" fill="#0a0a0a"/>
<circle cx="507.41" cy="533.28" r="1.65" fill="#0a0a0a"/>
<circle cx="502.41" cy="531.21" r="1.65" fill="#0a0a0a"/>
<text x="491.90" y="514.10" font-size="7.3" text-anchor="middle" fill="#3c3c3c" stroke="#3c3c3c" stroke-width="0.05">p=0.0079</text>
<text x="480.00" y="576.70" font-size="7.2" text-anchor="middle" fill="#222" stroke="#222" stroke-width="0.1">vehicle</text>
<text x="506.00" y="576.70" font-size="7.2" text-anchor="middle" fill="#222" stroke="#222" stroke-width="0.1">LCL-161</text>
<text x="458.40" y="532.80" font-size="6.7" text-anchor="middle" fill="#222" transform="rotate(-90 458.40 532.80)" stroke="#222" stroke-width="0.1">% cDC2 of CD45+</text>
</svg>
</body>
</html>
